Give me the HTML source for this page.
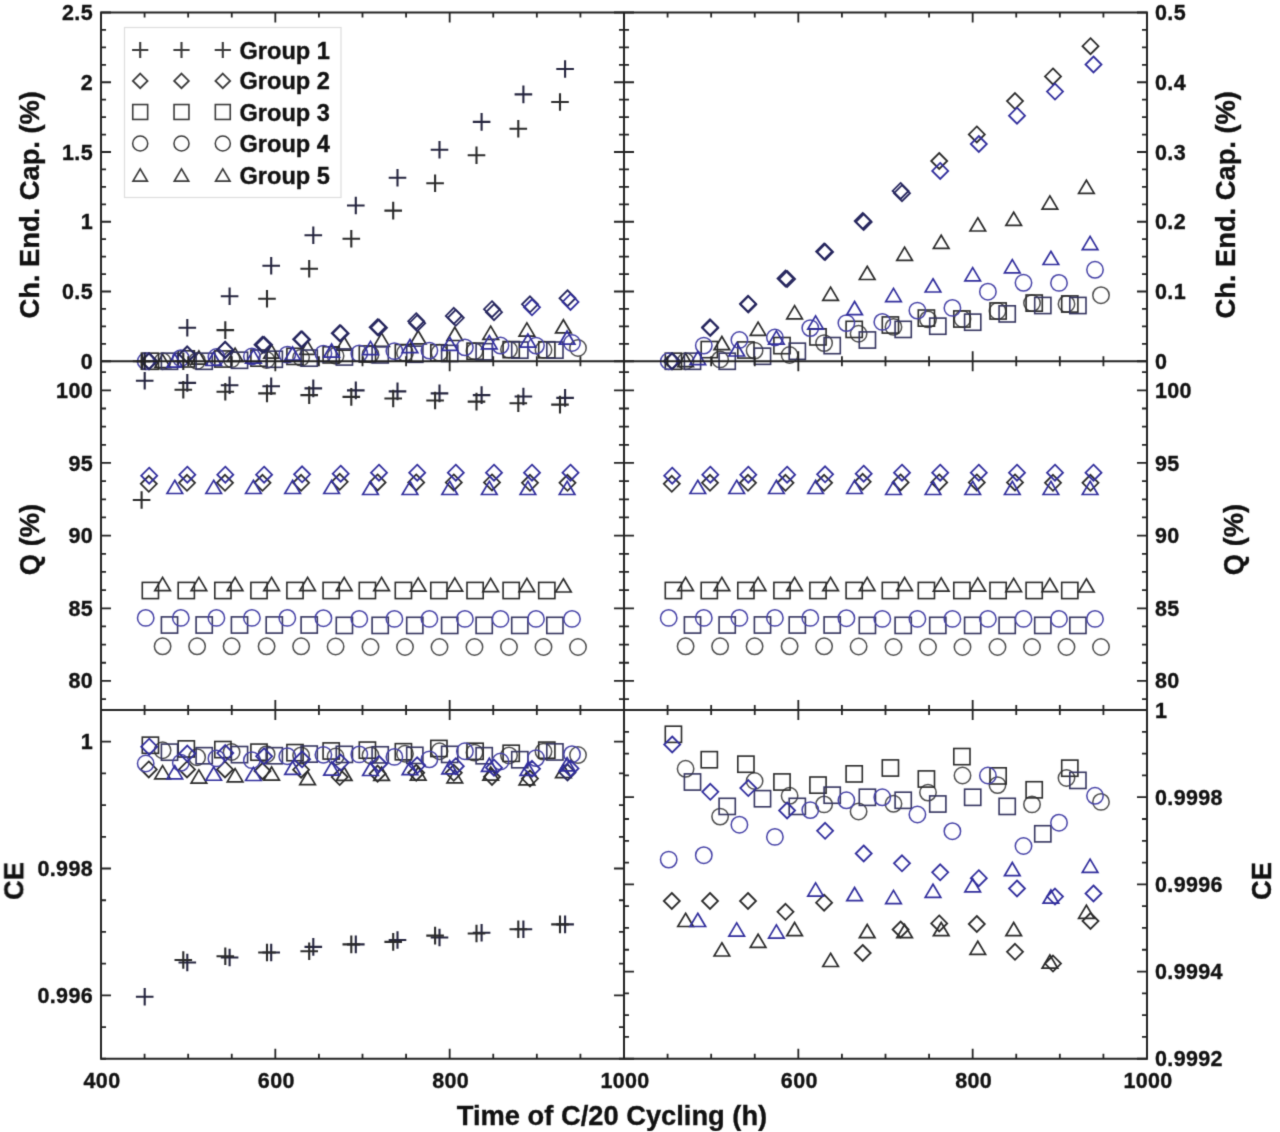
<!DOCTYPE html><html><head><meta charset="utf-8"><style>html,body{margin:0;padding:0;background:#fff;}svg{display:block;}text{font-family:"Liberation Sans", sans-serif;font-weight:bold;fill:#111;stroke:#111;stroke-width:0.35px;}</style></head><body>
<svg width="1280" height="1132" viewBox="0 0 1280 1132">
<defs><filter id="bl" color-interpolation-filters="sRGB" x="0" y="0" width="1280" height="1132" filterUnits="userSpaceOnUse"><feConvolveMatrix order="5" kernelMatrix="0.00000 0.00013 0.00070 0.00013 0.00000 0.00013 0.01910 0.09973 0.01910 0.00013 0.00070 0.09973 0.52080 0.09973 0.00070 0.00013 0.01910 0.09973 0.01910 0.00013 0.00000 0.00013 0.00070 0.00013 0.00000" divisor="1" edgeMode="none"/></filter></defs>
<rect width="1280" height="1132" fill="#fff"/>
<g filter="url(#bl)">
<g><circle cx="685.60" cy="361.25" r="8.20" stroke="#4c4c4c" stroke-width="1.5" fill="none"/><circle cx="162.60" cy="361.25" r="8.20" stroke="#4c4c4c" stroke-width="1.5" fill="none"/><circle cx="685.60" cy="646.30" r="8.20" stroke="#4c4c4c" stroke-width="1.5" fill="none"/><circle cx="162.60" cy="646.30" r="8.20" stroke="#4c4c4c" stroke-width="1.5" fill="none"/><circle cx="685.60" cy="768.80" r="8.20" stroke="#4c4c4c" stroke-width="1.5" fill="none"/><circle cx="162.60" cy="750.25" r="8.20" stroke="#4c4c4c" stroke-width="1.5" fill="none"/><circle cx="720.10" cy="359.40" r="8.20" stroke="#4c4c4c" stroke-width="1.5" fill="none"/><circle cx="197.10" cy="360.88" r="8.20" stroke="#4c4c4c" stroke-width="1.5" fill="none"/><circle cx="720.10" cy="646.30" r="8.20" stroke="#4c4c4c" stroke-width="1.5" fill="none"/><circle cx="197.10" cy="646.30" r="8.20" stroke="#4c4c4c" stroke-width="1.5" fill="none"/><circle cx="720.10" cy="816.60" r="8.20" stroke="#4c4c4c" stroke-width="1.5" fill="none"/><circle cx="197.10" cy="757.20" r="8.20" stroke="#4c4c4c" stroke-width="1.5" fill="none"/><circle cx="754.60" cy="350.60" r="8.20" stroke="#4c4c4c" stroke-width="1.5" fill="none"/><circle cx="231.60" cy="359.12" r="8.20" stroke="#4c4c4c" stroke-width="1.5" fill="none"/><circle cx="754.60" cy="646.30" r="8.20" stroke="#4c4c4c" stroke-width="1.5" fill="none"/><circle cx="231.60" cy="646.30" r="8.20" stroke="#4c4c4c" stroke-width="1.5" fill="none"/><circle cx="754.60" cy="781.00" r="8.20" stroke="#4c4c4c" stroke-width="1.5" fill="none"/><circle cx="231.60" cy="752.03" r="8.20" stroke="#4c4c4c" stroke-width="1.5" fill="none"/><circle cx="789.60" cy="355.00" r="8.20" stroke="#4c4c4c" stroke-width="1.5" fill="none"/><circle cx="266.60" cy="360.00" r="8.20" stroke="#4c4c4c" stroke-width="1.5" fill="none"/><circle cx="789.60" cy="646.30" r="8.20" stroke="#4c4c4c" stroke-width="1.5" fill="none"/><circle cx="266.60" cy="646.30" r="8.20" stroke="#4c4c4c" stroke-width="1.5" fill="none"/><circle cx="789.60" cy="795.80" r="8.20" stroke="#4c4c4c" stroke-width="1.5" fill="none"/><circle cx="266.60" cy="754.18" r="8.20" stroke="#4c4c4c" stroke-width="1.5" fill="none"/><circle cx="824.10" cy="343.10" r="8.20" stroke="#4c4c4c" stroke-width="1.5" fill="none"/><circle cx="301.10" cy="357.62" r="8.20" stroke="#4c4c4c" stroke-width="1.5" fill="none"/><circle cx="824.10" cy="646.30" r="8.20" stroke="#4c4c4c" stroke-width="1.5" fill="none"/><circle cx="301.10" cy="646.30" r="8.20" stroke="#4c4c4c" stroke-width="1.5" fill="none"/><circle cx="824.10" cy="804.40" r="8.20" stroke="#4c4c4c" stroke-width="1.5" fill="none"/><circle cx="301.10" cy="755.43" r="8.20" stroke="#4c4c4c" stroke-width="1.5" fill="none"/><circle cx="858.60" cy="333.75" r="8.20" stroke="#4c4c4c" stroke-width="1.5" fill="none"/><circle cx="335.60" cy="355.75" r="8.20" stroke="#4c4c4c" stroke-width="1.5" fill="none"/><circle cx="858.60" cy="646.50" r="8.20" stroke="#4c4c4c" stroke-width="1.5" fill="none"/><circle cx="335.60" cy="646.50" r="8.20" stroke="#4c4c4c" stroke-width="1.5" fill="none"/><circle cx="858.60" cy="811.50" r="8.20" stroke="#4c4c4c" stroke-width="1.5" fill="none"/><circle cx="335.60" cy="756.46" r="8.20" stroke="#4c4c4c" stroke-width="1.5" fill="none"/><circle cx="893.50" cy="326.90" r="8.20" stroke="#4c4c4c" stroke-width="1.5" fill="none"/><circle cx="370.50" cy="354.38" r="8.20" stroke="#4c4c4c" stroke-width="1.5" fill="none"/><circle cx="893.50" cy="647.00" r="8.20" stroke="#4c4c4c" stroke-width="1.5" fill="none"/><circle cx="370.50" cy="647.00" r="8.20" stroke="#4c4c4c" stroke-width="1.5" fill="none"/><circle cx="893.50" cy="803.80" r="8.20" stroke="#4c4c4c" stroke-width="1.5" fill="none"/><circle cx="370.50" cy="755.34" r="8.20" stroke="#4c4c4c" stroke-width="1.5" fill="none"/><circle cx="928.00" cy="319.40" r="8.20" stroke="#4c4c4c" stroke-width="1.5" fill="none"/><circle cx="405.00" cy="352.88" r="8.20" stroke="#4c4c4c" stroke-width="1.5" fill="none"/><circle cx="928.00" cy="647.00" r="8.20" stroke="#4c4c4c" stroke-width="1.5" fill="none"/><circle cx="405.00" cy="647.00" r="8.20" stroke="#4c4c4c" stroke-width="1.5" fill="none"/><circle cx="928.00" cy="792.60" r="8.20" stroke="#4c4c4c" stroke-width="1.5" fill="none"/><circle cx="405.00" cy="753.71" r="8.20" stroke="#4c4c4c" stroke-width="1.5" fill="none"/><circle cx="962.50" cy="319.00" r="8.20" stroke="#4c4c4c" stroke-width="1.5" fill="none"/><circle cx="439.50" cy="352.80" r="8.20" stroke="#4c4c4c" stroke-width="1.5" fill="none"/><circle cx="962.50" cy="647.00" r="8.20" stroke="#4c4c4c" stroke-width="1.5" fill="none"/><circle cx="439.50" cy="647.00" r="8.20" stroke="#4c4c4c" stroke-width="1.5" fill="none"/><circle cx="962.50" cy="775.50" r="8.20" stroke="#4c4c4c" stroke-width="1.5" fill="none"/><circle cx="439.50" cy="751.23" r="8.20" stroke="#4c4c4c" stroke-width="1.5" fill="none"/><circle cx="997.50" cy="311.00" r="8.20" stroke="#4c4c4c" stroke-width="1.5" fill="none"/><circle cx="474.50" cy="351.20" r="8.20" stroke="#4c4c4c" stroke-width="1.5" fill="none"/><circle cx="997.50" cy="647.00" r="8.20" stroke="#4c4c4c" stroke-width="1.5" fill="none"/><circle cx="474.50" cy="647.00" r="8.20" stroke="#4c4c4c" stroke-width="1.5" fill="none"/><circle cx="997.50" cy="785.10" r="8.20" stroke="#4c4c4c" stroke-width="1.5" fill="none"/><circle cx="474.50" cy="752.62" r="8.20" stroke="#4c4c4c" stroke-width="1.5" fill="none"/><circle cx="1032.00" cy="303.10" r="8.20" stroke="#4c4c4c" stroke-width="1.5" fill="none"/><circle cx="509.00" cy="349.62" r="8.20" stroke="#4c4c4c" stroke-width="1.5" fill="none"/><circle cx="1032.00" cy="647.00" r="8.20" stroke="#4c4c4c" stroke-width="1.5" fill="none"/><circle cx="509.00" cy="647.00" r="8.20" stroke="#4c4c4c" stroke-width="1.5" fill="none"/><circle cx="1032.00" cy="804.40" r="8.20" stroke="#4c4c4c" stroke-width="1.5" fill="none"/><circle cx="509.00" cy="755.43" r="8.20" stroke="#4c4c4c" stroke-width="1.5" fill="none"/><circle cx="1066.50" cy="303.90" r="8.20" stroke="#4c4c4c" stroke-width="1.5" fill="none"/><circle cx="543.50" cy="349.78" r="8.20" stroke="#4c4c4c" stroke-width="1.5" fill="none"/><circle cx="1066.50" cy="647.00" r="8.20" stroke="#4c4c4c" stroke-width="1.5" fill="none"/><circle cx="543.50" cy="647.00" r="8.20" stroke="#4c4c4c" stroke-width="1.5" fill="none"/><circle cx="1066.50" cy="778.00" r="8.20" stroke="#4c4c4c" stroke-width="1.5" fill="none"/><circle cx="543.50" cy="751.59" r="8.20" stroke="#4c4c4c" stroke-width="1.5" fill="none"/><circle cx="1101.00" cy="295.20" r="8.20" stroke="#4c4c4c" stroke-width="1.5" fill="none"/><circle cx="578.00" cy="348.04" r="8.20" stroke="#4c4c4c" stroke-width="1.5" fill="none"/><circle cx="1101.00" cy="647.00" r="8.20" stroke="#4c4c4c" stroke-width="1.5" fill="none"/><circle cx="578.00" cy="647.00" r="8.20" stroke="#4c4c4c" stroke-width="1.5" fill="none"/><circle cx="1101.00" cy="801.90" r="8.20" stroke="#4c4c4c" stroke-width="1.5" fill="none"/><circle cx="578.00" cy="755.07" r="8.20" stroke="#4c4c4c" stroke-width="1.5" fill="none"/><rect x="665.30" y="353.15" width="16.20" height="16.20" stroke="#2a2a2a" stroke-width="1.6" fill="none"/><rect x="142.30" y="353.15" width="16.20" height="16.20" stroke="#2a2a2a" stroke-width="1.6" fill="none"/><rect x="665.30" y="582.40" width="16.20" height="16.20" stroke="#2a2a2a" stroke-width="1.6" fill="none"/><rect x="142.30" y="582.40" width="16.20" height="16.20" stroke="#2a2a2a" stroke-width="1.6" fill="none"/><rect x="665.30" y="726.20" width="16.20" height="16.20" stroke="#2a2a2a" stroke-width="1.6" fill="none"/><rect x="142.30" y="737.13" width="16.20" height="16.20" stroke="#2a2a2a" stroke-width="1.6" fill="none"/><rect x="701.20" y="341.50" width="16.20" height="16.20" stroke="#2a2a2a" stroke-width="1.6" fill="none"/><rect x="178.20" y="350.82" width="16.20" height="16.20" stroke="#2a2a2a" stroke-width="1.6" fill="none"/><rect x="701.20" y="582.40" width="16.20" height="16.20" stroke="#2a2a2a" stroke-width="1.6" fill="none"/><rect x="178.20" y="582.40" width="16.20" height="16.20" stroke="#2a2a2a" stroke-width="1.6" fill="none"/><rect x="701.20" y="751.60" width="16.20" height="16.20" stroke="#2a2a2a" stroke-width="1.6" fill="none"/><rect x="178.20" y="740.83" width="16.20" height="16.20" stroke="#2a2a2a" stroke-width="1.6" fill="none"/><rect x="737.80" y="341.90" width="16.20" height="16.20" stroke="#2a2a2a" stroke-width="1.6" fill="none"/><rect x="214.80" y="350.90" width="16.20" height="16.20" stroke="#2a2a2a" stroke-width="1.6" fill="none"/><rect x="737.80" y="582.40" width="16.20" height="16.20" stroke="#2a2a2a" stroke-width="1.6" fill="none"/><rect x="214.80" y="582.40" width="16.20" height="16.20" stroke="#2a2a2a" stroke-width="1.6" fill="none"/><rect x="737.80" y="756.10" width="16.20" height="16.20" stroke="#2a2a2a" stroke-width="1.6" fill="none"/><rect x="214.80" y="741.48" width="16.20" height="16.20" stroke="#2a2a2a" stroke-width="1.6" fill="none"/><rect x="773.90" y="337.50" width="16.20" height="16.20" stroke="#2a2a2a" stroke-width="1.6" fill="none"/><rect x="250.90" y="350.02" width="16.20" height="16.20" stroke="#2a2a2a" stroke-width="1.6" fill="none"/><rect x="773.90" y="582.40" width="16.20" height="16.20" stroke="#2a2a2a" stroke-width="1.6" fill="none"/><rect x="250.90" y="582.40" width="16.20" height="16.20" stroke="#2a2a2a" stroke-width="1.6" fill="none"/><rect x="773.90" y="773.90" width="16.20" height="16.20" stroke="#2a2a2a" stroke-width="1.6" fill="none"/><rect x="250.90" y="744.07" width="16.20" height="16.20" stroke="#2a2a2a" stroke-width="1.6" fill="none"/><rect x="809.90" y="328.80" width="16.20" height="16.20" stroke="#2a2a2a" stroke-width="1.6" fill="none"/><rect x="286.90" y="348.28" width="16.20" height="16.20" stroke="#2a2a2a" stroke-width="1.6" fill="none"/><rect x="809.90" y="582.40" width="16.20" height="16.20" stroke="#2a2a2a" stroke-width="1.6" fill="none"/><rect x="286.90" y="582.40" width="16.20" height="16.20" stroke="#2a2a2a" stroke-width="1.6" fill="none"/><rect x="809.90" y="777.00" width="16.20" height="16.20" stroke="#2a2a2a" stroke-width="1.6" fill="none"/><rect x="286.90" y="744.52" width="16.20" height="16.20" stroke="#2a2a2a" stroke-width="1.6" fill="none"/><rect x="846.10" y="321.30" width="16.20" height="16.20" stroke="#2a2a2a" stroke-width="1.6" fill="none"/><rect x="323.10" y="346.78" width="16.20" height="16.20" stroke="#2a2a2a" stroke-width="1.6" fill="none"/><rect x="846.10" y="582.40" width="16.20" height="16.20" stroke="#2a2a2a" stroke-width="1.6" fill="none"/><rect x="323.10" y="582.40" width="16.20" height="16.20" stroke="#2a2a2a" stroke-width="1.6" fill="none"/><rect x="846.10" y="765.80" width="16.20" height="16.20" stroke="#2a2a2a" stroke-width="1.6" fill="none"/><rect x="323.10" y="742.89" width="16.20" height="16.20" stroke="#2a2a2a" stroke-width="1.6" fill="none"/><rect x="882.30" y="316.90" width="16.20" height="16.20" stroke="#2a2a2a" stroke-width="1.6" fill="none"/><rect x="359.30" y="345.90" width="16.20" height="16.20" stroke="#2a2a2a" stroke-width="1.6" fill="none"/><rect x="882.30" y="582.40" width="16.20" height="16.20" stroke="#2a2a2a" stroke-width="1.6" fill="none"/><rect x="359.30" y="582.40" width="16.20" height="16.20" stroke="#2a2a2a" stroke-width="1.6" fill="none"/><rect x="882.30" y="759.90" width="16.20" height="16.20" stroke="#2a2a2a" stroke-width="1.6" fill="none"/><rect x="359.30" y="742.04" width="16.20" height="16.20" stroke="#2a2a2a" stroke-width="1.6" fill="none"/><rect x="918.30" y="310.00" width="16.20" height="16.20" stroke="#2a2a2a" stroke-width="1.6" fill="none"/><rect x="395.30" y="344.52" width="16.20" height="16.20" stroke="#2a2a2a" stroke-width="1.6" fill="none"/><rect x="918.30" y="582.40" width="16.20" height="16.20" stroke="#2a2a2a" stroke-width="1.6" fill="none"/><rect x="395.30" y="582.40" width="16.20" height="16.20" stroke="#2a2a2a" stroke-width="1.6" fill="none"/><rect x="918.30" y="770.90" width="16.20" height="16.20" stroke="#2a2a2a" stroke-width="1.6" fill="none"/><rect x="395.30" y="743.64" width="16.20" height="16.20" stroke="#2a2a2a" stroke-width="1.6" fill="none"/><rect x="953.80" y="310.90" width="16.20" height="16.20" stroke="#2a2a2a" stroke-width="1.6" fill="none"/><rect x="430.80" y="344.70" width="16.20" height="16.20" stroke="#2a2a2a" stroke-width="1.6" fill="none"/><rect x="953.80" y="582.40" width="16.20" height="16.20" stroke="#2a2a2a" stroke-width="1.6" fill="none"/><rect x="430.80" y="582.40" width="16.20" height="16.20" stroke="#2a2a2a" stroke-width="1.6" fill="none"/><rect x="953.80" y="748.50" width="16.20" height="16.20" stroke="#2a2a2a" stroke-width="1.6" fill="none"/><rect x="430.80" y="740.38" width="16.20" height="16.20" stroke="#2a2a2a" stroke-width="1.6" fill="none"/><rect x="990.00" y="302.90" width="16.20" height="16.20" stroke="#2a2a2a" stroke-width="1.6" fill="none"/><rect x="467.00" y="343.10" width="16.20" height="16.20" stroke="#2a2a2a" stroke-width="1.6" fill="none"/><rect x="990.00" y="582.40" width="16.20" height="16.20" stroke="#2a2a2a" stroke-width="1.6" fill="none"/><rect x="467.00" y="582.40" width="16.20" height="16.20" stroke="#2a2a2a" stroke-width="1.6" fill="none"/><rect x="990.00" y="767.80" width="16.20" height="16.20" stroke="#2a2a2a" stroke-width="1.6" fill="none"/><rect x="467.00" y="743.19" width="16.20" height="16.20" stroke="#2a2a2a" stroke-width="1.6" fill="none"/><rect x="1026.10" y="295.00" width="16.20" height="16.20" stroke="#2a2a2a" stroke-width="1.6" fill="none"/><rect x="503.10" y="341.52" width="16.20" height="16.20" stroke="#2a2a2a" stroke-width="1.6" fill="none"/><rect x="1026.10" y="582.40" width="16.20" height="16.20" stroke="#2a2a2a" stroke-width="1.6" fill="none"/><rect x="503.10" y="582.40" width="16.20" height="16.20" stroke="#2a2a2a" stroke-width="1.6" fill="none"/><rect x="1026.10" y="781.70" width="16.20" height="16.20" stroke="#2a2a2a" stroke-width="1.6" fill="none"/><rect x="503.10" y="745.21" width="16.20" height="16.20" stroke="#2a2a2a" stroke-width="1.6" fill="none"/><rect x="1061.70" y="295.90" width="16.20" height="16.20" stroke="#2a2a2a" stroke-width="1.6" fill="none"/><rect x="538.70" y="341.70" width="16.20" height="16.20" stroke="#2a2a2a" stroke-width="1.6" fill="none"/><rect x="1061.70" y="582.40" width="16.20" height="16.20" stroke="#2a2a2a" stroke-width="1.6" fill="none"/><rect x="538.70" y="582.40" width="16.20" height="16.20" stroke="#2a2a2a" stroke-width="1.6" fill="none"/><rect x="1061.70" y="760.10" width="16.20" height="16.20" stroke="#2a2a2a" stroke-width="1.6" fill="none"/><rect x="538.70" y="742.07" width="16.20" height="16.20" stroke="#2a2a2a" stroke-width="1.6" fill="none"/><path d="M685.60 353.40L693.40 366.60L677.80 366.60Z" stroke="#2a2a2a" stroke-width="1.7000000000000002" fill="none" stroke-linejoin="miter"/><path d="M162.60 354.40L170.40 367.60L154.80 367.60Z" stroke="#2a2a2a" stroke-width="1.7000000000000002" fill="none" stroke-linejoin="miter"/><path d="M685.60 577.40L693.40 590.60L677.80 590.60Z" stroke="#2a2a2a" stroke-width="1.7000000000000002" fill="none" stroke-linejoin="miter"/><path d="M162.60 577.40L170.40 590.60L154.80 590.60Z" stroke="#2a2a2a" stroke-width="1.7000000000000002" fill="none" stroke-linejoin="miter"/><path d="M685.60 913.30L693.40 926.50L677.80 926.50Z" stroke="#2a2a2a" stroke-width="1.7000000000000002" fill="none" stroke-linejoin="miter"/><path d="M162.60 765.63L170.40 778.83L154.80 778.83Z" stroke="#2a2a2a" stroke-width="1.7000000000000002" fill="none" stroke-linejoin="miter"/><path d="M721.90 336.50L729.70 349.70L714.10 349.70Z" stroke="#2a2a2a" stroke-width="1.7000000000000002" fill="none" stroke-linejoin="miter"/><path d="M198.90 351.02L206.70 364.22L191.10 364.22Z" stroke="#2a2a2a" stroke-width="1.7000000000000002" fill="none" stroke-linejoin="miter"/><path d="M721.90 577.40L729.70 590.60L714.10 590.60Z" stroke="#2a2a2a" stroke-width="1.7000000000000002" fill="none" stroke-linejoin="miter"/><path d="M198.90 577.40L206.70 590.60L191.10 590.60Z" stroke="#2a2a2a" stroke-width="1.7000000000000002" fill="none" stroke-linejoin="miter"/><path d="M721.90 942.80L729.70 956.00L714.10 956.00Z" stroke="#2a2a2a" stroke-width="1.7000000000000002" fill="none" stroke-linejoin="miter"/><path d="M198.90 769.92L206.70 783.12L191.10 783.12Z" stroke="#2a2a2a" stroke-width="1.7000000000000002" fill="none" stroke-linejoin="miter"/><path d="M758.10 322.15L765.90 335.35L750.30 335.35Z" stroke="#2a2a2a" stroke-width="1.7000000000000002" fill="none" stroke-linejoin="miter"/><path d="M235.10 348.15L242.90 361.35L227.30 361.35Z" stroke="#2a2a2a" stroke-width="1.7000000000000002" fill="none" stroke-linejoin="miter"/><path d="M758.10 577.40L765.90 590.60L750.30 590.60Z" stroke="#2a2a2a" stroke-width="1.7000000000000002" fill="none" stroke-linejoin="miter"/><path d="M235.10 577.40L242.90 590.60L227.30 590.60Z" stroke="#2a2a2a" stroke-width="1.7000000000000002" fill="none" stroke-linejoin="miter"/><path d="M758.10 934.20L765.90 947.40L750.30 947.40Z" stroke="#2a2a2a" stroke-width="1.7000000000000002" fill="none" stroke-linejoin="miter"/><path d="M235.10 768.67L242.90 781.87L227.30 781.87Z" stroke="#2a2a2a" stroke-width="1.7000000000000002" fill="none" stroke-linejoin="miter"/><path d="M794.60 305.60L802.40 318.80L786.80 318.80Z" stroke="#2a2a2a" stroke-width="1.7000000000000002" fill="none" stroke-linejoin="miter"/><path d="M271.60 344.84L279.40 358.04L263.80 358.04Z" stroke="#2a2a2a" stroke-width="1.7000000000000002" fill="none" stroke-linejoin="miter"/><path d="M794.60 577.40L802.40 590.60L786.80 590.60Z" stroke="#2a2a2a" stroke-width="1.7000000000000002" fill="none" stroke-linejoin="miter"/><path d="M271.60 577.40L279.40 590.60L263.80 590.60Z" stroke="#2a2a2a" stroke-width="1.7000000000000002" fill="none" stroke-linejoin="miter"/><path d="M794.60 922.50L802.40 935.70L786.80 935.70Z" stroke="#2a2a2a" stroke-width="1.7000000000000002" fill="none" stroke-linejoin="miter"/><path d="M271.60 766.97L279.40 780.17L263.80 780.17Z" stroke="#2a2a2a" stroke-width="1.7000000000000002" fill="none" stroke-linejoin="miter"/><path d="M830.60 287.15L838.40 300.35L822.80 300.35Z" stroke="#2a2a2a" stroke-width="1.7000000000000002" fill="none" stroke-linejoin="miter"/><path d="M307.60 341.15L315.40 354.35L299.80 354.35Z" stroke="#2a2a2a" stroke-width="1.7000000000000002" fill="none" stroke-linejoin="miter"/><path d="M830.60 577.40L838.40 590.60L822.80 590.60Z" stroke="#2a2a2a" stroke-width="1.7000000000000002" fill="none" stroke-linejoin="miter"/><path d="M307.60 577.40L315.40 590.60L299.80 590.60Z" stroke="#2a2a2a" stroke-width="1.7000000000000002" fill="none" stroke-linejoin="miter"/><path d="M830.60 953.30L838.40 966.50L822.80 966.50Z" stroke="#2a2a2a" stroke-width="1.7000000000000002" fill="none" stroke-linejoin="miter"/><path d="M307.60 771.45L315.40 784.65L299.80 784.65Z" stroke="#2a2a2a" stroke-width="1.7000000000000002" fill="none" stroke-linejoin="miter"/><path d="M867.20 266.30L875.00 279.50L859.40 279.50Z" stroke="#2a2a2a" stroke-width="1.7000000000000002" fill="none" stroke-linejoin="miter"/><path d="M344.20 336.98L352.00 350.18L336.40 350.18Z" stroke="#2a2a2a" stroke-width="1.7000000000000002" fill="none" stroke-linejoin="miter"/><path d="M867.20 577.40L875.00 590.60L859.40 590.60Z" stroke="#2a2a2a" stroke-width="1.7000000000000002" fill="none" stroke-linejoin="miter"/><path d="M344.20 577.40L352.00 590.60L336.40 590.60Z" stroke="#2a2a2a" stroke-width="1.7000000000000002" fill="none" stroke-linejoin="miter"/><path d="M867.20 924.50L875.00 937.70L859.40 937.70Z" stroke="#2a2a2a" stroke-width="1.7000000000000002" fill="none" stroke-linejoin="miter"/><path d="M344.20 767.26L352.00 780.46L336.40 780.46Z" stroke="#2a2a2a" stroke-width="1.7000000000000002" fill="none" stroke-linejoin="miter"/><path d="M904.60 247.15L912.40 260.35L896.80 260.35Z" stroke="#2a2a2a" stroke-width="1.7000000000000002" fill="none" stroke-linejoin="miter"/><path d="M381.60 333.15L389.40 346.35L373.80 346.35Z" stroke="#2a2a2a" stroke-width="1.7000000000000002" fill="none" stroke-linejoin="miter"/><path d="M904.60 577.40L912.40 590.60L896.80 590.60Z" stroke="#2a2a2a" stroke-width="1.7000000000000002" fill="none" stroke-linejoin="miter"/><path d="M381.60 577.40L389.40 590.60L373.80 590.60Z" stroke="#2a2a2a" stroke-width="1.7000000000000002" fill="none" stroke-linejoin="miter"/><path d="M904.60 924.50L912.40 937.70L896.80 937.70Z" stroke="#2a2a2a" stroke-width="1.7000000000000002" fill="none" stroke-linejoin="miter"/><path d="M381.60 767.26L389.40 780.46L373.80 780.46Z" stroke="#2a2a2a" stroke-width="1.7000000000000002" fill="none" stroke-linejoin="miter"/><path d="M941.20 235.20L949.00 248.40L933.40 248.40Z" stroke="#2a2a2a" stroke-width="1.7000000000000002" fill="none" stroke-linejoin="miter"/><path d="M418.20 330.76L426.00 343.96L410.40 343.96Z" stroke="#2a2a2a" stroke-width="1.7000000000000002" fill="none" stroke-linejoin="miter"/><path d="M941.20 577.90L949.00 591.10L933.40 591.10Z" stroke="#2a2a2a" stroke-width="1.7000000000000002" fill="none" stroke-linejoin="miter"/><path d="M418.20 577.90L426.00 591.10L410.40 591.10Z" stroke="#2a2a2a" stroke-width="1.7000000000000002" fill="none" stroke-linejoin="miter"/><path d="M941.20 922.50L949.00 935.70L933.40 935.70Z" stroke="#2a2a2a" stroke-width="1.7000000000000002" fill="none" stroke-linejoin="miter"/><path d="M418.20 766.97L426.00 780.17L410.40 780.17Z" stroke="#2a2a2a" stroke-width="1.7000000000000002" fill="none" stroke-linejoin="miter"/><path d="M977.80 217.80L985.60 231.00L970.00 231.00Z" stroke="#2a2a2a" stroke-width="1.7000000000000002" fill="none" stroke-linejoin="miter"/><path d="M454.80 327.28L462.60 340.48L447.00 340.48Z" stroke="#2a2a2a" stroke-width="1.7000000000000002" fill="none" stroke-linejoin="miter"/><path d="M977.80 577.90L985.60 591.10L970.00 591.10Z" stroke="#2a2a2a" stroke-width="1.7000000000000002" fill="none" stroke-linejoin="miter"/><path d="M454.80 577.90L462.60 591.10L447.00 591.10Z" stroke="#2a2a2a" stroke-width="1.7000000000000002" fill="none" stroke-linejoin="miter"/><path d="M977.80 941.20L985.60 954.40L970.00 954.40Z" stroke="#2a2a2a" stroke-width="1.7000000000000002" fill="none" stroke-linejoin="miter"/><path d="M454.80 769.69L462.60 782.89L447.00 782.89Z" stroke="#2a2a2a" stroke-width="1.7000000000000002" fill="none" stroke-linejoin="miter"/><path d="M1013.70 212.20L1021.50 225.40L1005.90 225.40Z" stroke="#2a2a2a" stroke-width="1.7000000000000002" fill="none" stroke-linejoin="miter"/><path d="M490.70 326.16L498.50 339.36L482.90 339.36Z" stroke="#2a2a2a" stroke-width="1.7000000000000002" fill="none" stroke-linejoin="miter"/><path d="M1013.70 578.40L1021.50 591.60L1005.90 591.60Z" stroke="#2a2a2a" stroke-width="1.7000000000000002" fill="none" stroke-linejoin="miter"/><path d="M490.70 578.40L498.50 591.60L482.90 591.60Z" stroke="#2a2a2a" stroke-width="1.7000000000000002" fill="none" stroke-linejoin="miter"/><path d="M1013.70 922.50L1021.50 935.70L1005.90 935.70Z" stroke="#2a2a2a" stroke-width="1.7000000000000002" fill="none" stroke-linejoin="miter"/><path d="M490.70 766.97L498.50 780.17L482.90 780.17Z" stroke="#2a2a2a" stroke-width="1.7000000000000002" fill="none" stroke-linejoin="miter"/><path d="M1049.90 195.90L1057.70 209.10L1042.10 209.10Z" stroke="#2a2a2a" stroke-width="1.7000000000000002" fill="none" stroke-linejoin="miter"/><path d="M526.90 322.90L534.70 336.10L519.10 336.10Z" stroke="#2a2a2a" stroke-width="1.7000000000000002" fill="none" stroke-linejoin="miter"/><path d="M1049.90 578.40L1057.70 591.60L1042.10 591.60Z" stroke="#2a2a2a" stroke-width="1.7000000000000002" fill="none" stroke-linejoin="miter"/><path d="M526.90 578.40L534.70 591.60L519.10 591.60Z" stroke="#2a2a2a" stroke-width="1.7000000000000002" fill="none" stroke-linejoin="miter"/><path d="M1049.90 955.00L1057.70 968.20L1042.10 968.20Z" stroke="#2a2a2a" stroke-width="1.7000000000000002" fill="none" stroke-linejoin="miter"/><path d="M526.90 771.70L534.70 784.90L519.10 784.90Z" stroke="#2a2a2a" stroke-width="1.7000000000000002" fill="none" stroke-linejoin="miter"/><path d="M1086.40 180.20L1094.20 193.40L1078.60 193.40Z" stroke="#2a2a2a" stroke-width="1.7000000000000002" fill="none" stroke-linejoin="miter"/><path d="M563.40 319.76L571.20 332.96L555.60 332.96Z" stroke="#2a2a2a" stroke-width="1.7000000000000002" fill="none" stroke-linejoin="miter"/><path d="M1086.40 578.80L1094.20 592.00L1078.60 592.00Z" stroke="#2a2a2a" stroke-width="1.7000000000000002" fill="none" stroke-linejoin="miter"/><path d="M563.40 578.80L571.20 592.00L555.60 592.00Z" stroke="#2a2a2a" stroke-width="1.7000000000000002" fill="none" stroke-linejoin="miter"/><path d="M1086.40 905.20L1094.20 918.40L1078.60 918.40Z" stroke="#2a2a2a" stroke-width="1.7000000000000002" fill="none" stroke-linejoin="miter"/><path d="M563.40 764.45L571.20 777.65L555.60 777.65Z" stroke="#2a2a2a" stroke-width="1.7000000000000002" fill="none" stroke-linejoin="miter"/><path d="M671.80 353.25L679.80 361.25L671.80 369.25L663.80 361.25Z" stroke="#26265e" stroke-width="1.8" fill="none"/><path d="M148.80 353.25L156.80 361.25L148.80 369.25L140.80 361.25Z" stroke="#26265e" stroke-width="1.8" fill="none"/><path d="M671.80 475.80L679.80 483.80L671.80 491.80L663.80 483.80Z" stroke="#2a2a2a" stroke-width="1.8" fill="none"/><path d="M148.80 475.80L156.80 483.80L148.80 491.80L140.80 483.80Z" stroke="#2a2a2a" stroke-width="1.8" fill="none"/><path d="M671.80 893.00L679.80 901.00L671.80 909.00L663.80 901.00Z" stroke="#2a2a2a" stroke-width="1.8" fill="none"/><path d="M148.80 761.48L156.80 769.48L148.80 777.48L140.80 769.48Z" stroke="#2a2a2a" stroke-width="1.8" fill="none"/><path d="M710.00 319.30L718.00 327.30L710.00 335.30L702.00 327.30Z" stroke="#26265e" stroke-width="1.8" fill="none"/><path d="M187.00 346.46L195.00 354.46L187.00 362.46L179.00 354.46Z" stroke="#26265e" stroke-width="1.8" fill="none"/><path d="M710.00 474.80L718.00 482.80L710.00 490.80L702.00 482.80Z" stroke="#2a2a2a" stroke-width="1.8" fill="none"/><path d="M187.00 474.80L195.00 482.80L187.00 490.80L179.00 482.80Z" stroke="#2a2a2a" stroke-width="1.8" fill="none"/><path d="M710.00 893.00L718.00 901.00L710.00 909.00L702.00 901.00Z" stroke="#2a2a2a" stroke-width="1.8" fill="none"/><path d="M187.00 761.48L195.00 769.48L187.00 777.48L179.00 769.48Z" stroke="#2a2a2a" stroke-width="1.8" fill="none"/><path d="M748.00 295.70L756.00 303.70L748.00 311.70L740.00 303.70Z" stroke="#26265e" stroke-width="1.8" fill="none"/><path d="M225.00 341.74L233.00 349.74L225.00 357.74L217.00 349.74Z" stroke="#26265e" stroke-width="1.8" fill="none"/><path d="M748.00 474.80L756.00 482.80L748.00 490.80L740.00 482.80Z" stroke="#2a2a2a" stroke-width="1.8" fill="none"/><path d="M225.00 474.80L233.00 482.80L225.00 490.80L217.00 482.80Z" stroke="#2a2a2a" stroke-width="1.8" fill="none"/><path d="M748.00 893.00L756.00 901.00L748.00 909.00L740.00 901.00Z" stroke="#2a2a2a" stroke-width="1.8" fill="none"/><path d="M225.00 761.48L233.00 769.48L225.00 777.48L217.00 769.48Z" stroke="#2a2a2a" stroke-width="1.8" fill="none"/><path d="M785.50 270.50L793.50 278.50L785.50 286.50L777.50 278.50Z" stroke="#26265e" stroke-width="1.8" fill="none"/><path d="M262.50 336.70L270.50 344.70L262.50 352.70L254.50 344.70Z" stroke="#26265e" stroke-width="1.8" fill="none"/><path d="M785.50 474.80L793.50 482.80L785.50 490.80L777.50 482.80Z" stroke="#2a2a2a" stroke-width="1.8" fill="none"/><path d="M262.50 474.80L270.50 482.80L262.50 490.80L254.50 482.80Z" stroke="#2a2a2a" stroke-width="1.8" fill="none"/><path d="M785.50 903.80L793.50 911.80L785.50 919.80L777.50 911.80Z" stroke="#2a2a2a" stroke-width="1.8" fill="none"/><path d="M262.50 763.05L270.50 771.05L262.50 779.05L254.50 771.05Z" stroke="#2a2a2a" stroke-width="1.8" fill="none"/><path d="M824.10 243.50L832.10 251.50L824.10 259.50L816.10 251.50Z" stroke="#26265e" stroke-width="1.8" fill="none"/><path d="M301.10 331.30L309.10 339.30L301.10 347.30L293.10 339.30Z" stroke="#26265e" stroke-width="1.8" fill="none"/><path d="M824.10 474.80L832.10 482.80L824.10 490.80L816.10 482.80Z" stroke="#2a2a2a" stroke-width="1.8" fill="none"/><path d="M301.10 474.80L309.10 482.80L301.10 490.80L293.10 482.80Z" stroke="#2a2a2a" stroke-width="1.8" fill="none"/><path d="M824.10 894.70L832.10 902.70L824.10 910.70L816.10 902.70Z" stroke="#2a2a2a" stroke-width="1.8" fill="none"/><path d="M301.10 761.73L309.10 769.73L301.10 777.73L293.10 769.73Z" stroke="#2a2a2a" stroke-width="1.8" fill="none"/><path d="M862.70 213.00L870.70 221.00L862.70 229.00L854.70 221.00Z" stroke="#26265e" stroke-width="1.8" fill="none"/><path d="M339.70 325.20L347.70 333.20L339.70 341.20L331.70 333.20Z" stroke="#26265e" stroke-width="1.8" fill="none"/><path d="M862.70 473.80L870.70 481.80L862.70 489.80L854.70 481.80Z" stroke="#2a2a2a" stroke-width="1.8" fill="none"/><path d="M339.70 473.80L347.70 481.80L339.70 489.80L331.70 481.80Z" stroke="#2a2a2a" stroke-width="1.8" fill="none"/><path d="M862.70 945.00L870.70 953.00L862.70 961.00L854.70 953.00Z" stroke="#2a2a2a" stroke-width="1.8" fill="none"/><path d="M339.70 769.04L347.70 777.04L339.70 785.04L331.70 777.04Z" stroke="#2a2a2a" stroke-width="1.8" fill="none"/><path d="M900.60 182.90L908.60 190.90L900.60 198.90L892.60 190.90Z" stroke="#26265e" stroke-width="1.8" fill="none"/><path d="M377.60 319.18L385.60 327.18L377.60 335.18L369.60 327.18Z" stroke="#26265e" stroke-width="1.8" fill="none"/><path d="M900.60 474.40L908.60 482.40L900.60 490.40L892.60 482.40Z" stroke="#2a2a2a" stroke-width="1.8" fill="none"/><path d="M377.60 474.40L385.60 482.40L377.60 490.40L369.60 482.40Z" stroke="#2a2a2a" stroke-width="1.8" fill="none"/><path d="M900.60 921.50L908.60 929.50L900.60 937.50L892.60 929.50Z" stroke="#2a2a2a" stroke-width="1.8" fill="none"/><path d="M377.60 765.63L385.60 773.63L377.60 781.63L369.60 773.63Z" stroke="#2a2a2a" stroke-width="1.8" fill="none"/><path d="M939.20 153.00L947.20 161.00L939.20 169.00L931.20 161.00Z" stroke="#2a2a2a" stroke-width="1.8" fill="none"/><path d="M416.20 313.20L424.20 321.20L416.20 329.20L408.20 321.20Z" stroke="#26265e" stroke-width="1.8" fill="none"/><path d="M939.20 474.40L947.20 482.40L939.20 490.40L931.20 482.40Z" stroke="#2a2a2a" stroke-width="1.8" fill="none"/><path d="M416.20 474.40L424.20 482.40L416.20 490.40L408.20 482.40Z" stroke="#2a2a2a" stroke-width="1.8" fill="none"/><path d="M939.20 915.40L947.20 923.40L939.20 931.40L931.20 923.40Z" stroke="#2a2a2a" stroke-width="1.8" fill="none"/><path d="M416.20 764.74L424.20 772.74L416.20 780.74L408.20 772.74Z" stroke="#2a2a2a" stroke-width="1.8" fill="none"/><path d="M976.80 126.40L984.80 134.40L976.80 142.40L968.80 134.40Z" stroke="#2a2a2a" stroke-width="1.8" fill="none"/><path d="M453.80 307.88L461.80 315.88L453.80 323.88L445.80 315.88Z" stroke="#26265e" stroke-width="1.8" fill="none"/><path d="M976.80 474.40L984.80 482.40L976.80 490.40L968.80 482.40Z" stroke="#2a2a2a" stroke-width="1.8" fill="none"/><path d="M453.80 474.40L461.80 482.40L453.80 490.40L445.80 482.40Z" stroke="#2a2a2a" stroke-width="1.8" fill="none"/><path d="M976.80 916.00L984.80 924.00L976.80 932.00L968.80 924.00Z" stroke="#2a2a2a" stroke-width="1.8" fill="none"/><path d="M453.80 764.83L461.80 772.83L453.80 780.83L445.80 772.83Z" stroke="#2a2a2a" stroke-width="1.8" fill="none"/><path d="M1015.00 93.10L1023.00 101.10L1015.00 109.10L1007.00 101.10Z" stroke="#2a2a2a" stroke-width="1.8" fill="none"/><path d="M492.00 301.22L500.00 309.22L492.00 317.22L484.00 309.22Z" stroke="#26265e" stroke-width="1.8" fill="none"/><path d="M1015.00 474.40L1023.00 482.40L1015.00 490.40L1007.00 482.40Z" stroke="#2a2a2a" stroke-width="1.8" fill="none"/><path d="M492.00 474.40L500.00 482.40L492.00 490.40L484.00 482.40Z" stroke="#2a2a2a" stroke-width="1.8" fill="none"/><path d="M1015.00 943.80L1023.00 951.80L1015.00 959.80L1007.00 951.80Z" stroke="#2a2a2a" stroke-width="1.8" fill="none"/><path d="M492.00 768.87L500.00 776.87L492.00 784.87L484.00 776.87Z" stroke="#2a2a2a" stroke-width="1.8" fill="none"/><path d="M1053.00 68.40L1061.00 76.40L1053.00 84.40L1045.00 76.40Z" stroke="#2a2a2a" stroke-width="1.8" fill="none"/><path d="M530.00 296.28L538.00 304.28L530.00 312.28L522.00 304.28Z" stroke="#26265e" stroke-width="1.8" fill="none"/><path d="M1053.00 474.80L1061.00 482.80L1053.00 490.80L1045.00 482.80Z" stroke="#2a2a2a" stroke-width="1.8" fill="none"/><path d="M530.00 474.80L538.00 482.80L530.00 490.80L522.00 482.80Z" stroke="#2a2a2a" stroke-width="1.8" fill="none"/><path d="M1053.00 955.60L1061.00 963.60L1053.00 971.60L1045.00 963.60Z" stroke="#2a2a2a" stroke-width="1.8" fill="none"/><path d="M530.00 770.59L538.00 778.59L530.00 786.59L522.00 778.59Z" stroke="#2a2a2a" stroke-width="1.8" fill="none"/><path d="M1090.50 38.20L1098.50 46.20L1090.50 54.20L1082.50 46.20Z" stroke="#2a2a2a" stroke-width="1.8" fill="none"/><path d="M567.50 290.24L575.50 298.24L567.50 306.24L559.50 298.24Z" stroke="#26265e" stroke-width="1.8" fill="none"/><path d="M1090.50 474.80L1098.50 482.80L1090.50 490.80L1082.50 482.80Z" stroke="#2a2a2a" stroke-width="1.8" fill="none"/><path d="M567.50 474.80L575.50 482.80L567.50 490.80L559.50 482.80Z" stroke="#2a2a2a" stroke-width="1.8" fill="none"/><path d="M1090.50 913.00L1098.50 921.00L1090.50 929.00L1082.50 921.00Z" stroke="#2a2a2a" stroke-width="1.8" fill="none"/><path d="M567.50 764.39L575.50 772.39L567.50 780.39L559.50 772.39Z" stroke="#26265e" stroke-width="1.8" fill="none"/><rect x="684.40" y="353.15" width="16.20" height="16.20" stroke="#34345f" stroke-width="1.6" fill="none"/><rect x="161.40" y="353.15" width="16.20" height="16.20" stroke="#34345f" stroke-width="1.6" fill="none"/><rect x="684.40" y="616.90" width="16.20" height="16.20" stroke="#34345f" stroke-width="1.6" fill="none"/><rect x="161.40" y="616.90" width="16.20" height="16.20" stroke="#34345f" stroke-width="1.6" fill="none"/><rect x="684.40" y="773.90" width="16.20" height="16.20" stroke="#34345f" stroke-width="1.6" fill="none"/><rect x="161.40" y="744.07" width="16.20" height="16.20" stroke="#34345f" stroke-width="1.6" fill="none"/><rect x="719.10" y="353.15" width="16.20" height="16.20" stroke="#34345f" stroke-width="1.6" fill="none"/><rect x="196.10" y="353.15" width="16.20" height="16.20" stroke="#34345f" stroke-width="1.6" fill="none"/><rect x="719.10" y="616.90" width="16.20" height="16.20" stroke="#34345f" stroke-width="1.6" fill="none"/><rect x="196.10" y="616.90" width="16.20" height="16.20" stroke="#34345f" stroke-width="1.6" fill="none"/><rect x="719.10" y="798.30" width="16.20" height="16.20" stroke="#34345f" stroke-width="1.6" fill="none"/><rect x="196.10" y="747.62" width="16.20" height="16.20" stroke="#34345f" stroke-width="1.6" fill="none"/><rect x="754.40" y="348.15" width="16.20" height="16.20" stroke="#34345f" stroke-width="1.6" fill="none"/><rect x="231.40" y="352.15" width="16.20" height="16.20" stroke="#34345f" stroke-width="1.6" fill="none"/><rect x="754.40" y="616.90" width="16.20" height="16.20" stroke="#34345f" stroke-width="1.6" fill="none"/><rect x="231.40" y="616.90" width="16.20" height="16.20" stroke="#34345f" stroke-width="1.6" fill="none"/><rect x="754.40" y="790.60" width="16.20" height="16.20" stroke="#34345f" stroke-width="1.6" fill="none"/><rect x="231.40" y="746.50" width="16.20" height="16.20" stroke="#34345f" stroke-width="1.6" fill="none"/><rect x="789.20" y="343.15" width="16.20" height="16.20" stroke="#34345f" stroke-width="1.6" fill="none"/><rect x="266.20" y="351.15" width="16.20" height="16.20" stroke="#34345f" stroke-width="1.6" fill="none"/><rect x="789.20" y="616.90" width="16.20" height="16.20" stroke="#34345f" stroke-width="1.6" fill="none"/><rect x="266.20" y="616.90" width="16.20" height="16.20" stroke="#34345f" stroke-width="1.6" fill="none"/><rect x="789.20" y="798.30" width="16.20" height="16.20" stroke="#34345f" stroke-width="1.6" fill="none"/><rect x="266.20" y="747.62" width="16.20" height="16.20" stroke="#34345f" stroke-width="1.6" fill="none"/><rect x="824.10" y="337.50" width="16.20" height="16.20" stroke="#34345f" stroke-width="1.6" fill="none"/><rect x="301.10" y="350.02" width="16.20" height="16.20" stroke="#34345f" stroke-width="1.6" fill="none"/><rect x="824.10" y="616.90" width="16.20" height="16.20" stroke="#34345f" stroke-width="1.6" fill="none"/><rect x="301.10" y="616.90" width="16.20" height="16.20" stroke="#34345f" stroke-width="1.6" fill="none"/><rect x="824.10" y="787.10" width="16.20" height="16.20" stroke="#34345f" stroke-width="1.6" fill="none"/><rect x="301.10" y="745.99" width="16.20" height="16.20" stroke="#34345f" stroke-width="1.6" fill="none"/><rect x="859.30" y="331.90" width="16.20" height="16.20" stroke="#34345f" stroke-width="1.6" fill="none"/><rect x="336.30" y="348.90" width="16.20" height="16.20" stroke="#34345f" stroke-width="1.6" fill="none"/><rect x="859.30" y="617.30" width="16.20" height="16.20" stroke="#34345f" stroke-width="1.6" fill="none"/><rect x="336.30" y="617.30" width="16.20" height="16.20" stroke="#34345f" stroke-width="1.6" fill="none"/><rect x="859.30" y="789.20" width="16.20" height="16.20" stroke="#34345f" stroke-width="1.6" fill="none"/><rect x="336.30" y="746.30" width="16.20" height="16.20" stroke="#34345f" stroke-width="1.6" fill="none"/><rect x="895.10" y="321.30" width="16.20" height="16.20" stroke="#34345f" stroke-width="1.6" fill="none"/><rect x="372.10" y="346.78" width="16.20" height="16.20" stroke="#34345f" stroke-width="1.6" fill="none"/><rect x="895.10" y="617.30" width="16.20" height="16.20" stroke="#34345f" stroke-width="1.6" fill="none"/><rect x="372.10" y="617.30" width="16.20" height="16.20" stroke="#34345f" stroke-width="1.6" fill="none"/><rect x="895.10" y="792.20" width="16.20" height="16.20" stroke="#34345f" stroke-width="1.6" fill="none"/><rect x="372.10" y="746.73" width="16.20" height="16.20" stroke="#34345f" stroke-width="1.6" fill="none"/><rect x="929.70" y="318.10" width="16.20" height="16.20" stroke="#34345f" stroke-width="1.6" fill="none"/><rect x="406.70" y="346.14" width="16.20" height="16.20" stroke="#34345f" stroke-width="1.6" fill="none"/><rect x="929.70" y="617.30" width="16.20" height="16.20" stroke="#34345f" stroke-width="1.6" fill="none"/><rect x="406.70" y="617.30" width="16.20" height="16.20" stroke="#34345f" stroke-width="1.6" fill="none"/><rect x="929.70" y="795.90" width="16.20" height="16.20" stroke="#34345f" stroke-width="1.6" fill="none"/><rect x="406.70" y="747.27" width="16.20" height="16.20" stroke="#34345f" stroke-width="1.6" fill="none"/><rect x="964.60" y="314.10" width="16.20" height="16.20" stroke="#34345f" stroke-width="1.6" fill="none"/><rect x="441.60" y="345.34" width="16.20" height="16.20" stroke="#34345f" stroke-width="1.6" fill="none"/><rect x="964.60" y="617.30" width="16.20" height="16.20" stroke="#34345f" stroke-width="1.6" fill="none"/><rect x="441.60" y="617.30" width="16.20" height="16.20" stroke="#34345f" stroke-width="1.6" fill="none"/><rect x="964.60" y="789.20" width="16.20" height="16.20" stroke="#34345f" stroke-width="1.6" fill="none"/><rect x="441.60" y="746.30" width="16.20" height="16.20" stroke="#34345f" stroke-width="1.6" fill="none"/><rect x="999.10" y="305.80" width="16.20" height="16.20" stroke="#34345f" stroke-width="1.6" fill="none"/><rect x="476.10" y="343.68" width="16.20" height="16.20" stroke="#34345f" stroke-width="1.6" fill="none"/><rect x="999.10" y="617.30" width="16.20" height="16.20" stroke="#34345f" stroke-width="1.6" fill="none"/><rect x="476.10" y="617.30" width="16.20" height="16.20" stroke="#34345f" stroke-width="1.6" fill="none"/><rect x="999.10" y="798.30" width="16.20" height="16.20" stroke="#34345f" stroke-width="1.6" fill="none"/><rect x="476.10" y="747.62" width="16.20" height="16.20" stroke="#34345f" stroke-width="1.6" fill="none"/><rect x="1034.70" y="297.40" width="16.20" height="16.20" stroke="#34345f" stroke-width="1.6" fill="none"/><rect x="511.70" y="342.00" width="16.20" height="16.20" stroke="#34345f" stroke-width="1.6" fill="none"/><rect x="1034.70" y="617.30" width="16.20" height="16.20" stroke="#34345f" stroke-width="1.6" fill="none"/><rect x="511.70" y="617.30" width="16.20" height="16.20" stroke="#34345f" stroke-width="1.6" fill="none"/><rect x="1034.70" y="825.70" width="16.20" height="16.20" stroke="#34345f" stroke-width="1.6" fill="none"/><rect x="511.70" y="751.61" width="16.20" height="16.20" stroke="#34345f" stroke-width="1.6" fill="none"/><rect x="1069.80" y="297.40" width="16.20" height="16.20" stroke="#34345f" stroke-width="1.6" fill="none"/><rect x="546.80" y="342.00" width="16.20" height="16.20" stroke="#34345f" stroke-width="1.6" fill="none"/><rect x="1069.80" y="617.30" width="16.20" height="16.20" stroke="#34345f" stroke-width="1.6" fill="none"/><rect x="546.80" y="617.30" width="16.20" height="16.20" stroke="#34345f" stroke-width="1.6" fill="none"/><rect x="1069.80" y="772.30" width="16.20" height="16.20" stroke="#34345f" stroke-width="1.6" fill="none"/><rect x="546.80" y="743.84" width="16.20" height="16.20" stroke="#34345f" stroke-width="1.6" fill="none"/><circle cx="668.70" cy="361.25" r="8.20" stroke="#4541a6" stroke-width="1.5" fill="none"/><circle cx="145.70" cy="361.25" r="8.20" stroke="#4541a6" stroke-width="1.5" fill="none"/><circle cx="668.70" cy="617.90" r="8.20" stroke="#4541a6" stroke-width="1.5" fill="none"/><circle cx="145.70" cy="617.90" r="8.20" stroke="#4541a6" stroke-width="1.5" fill="none"/><circle cx="668.70" cy="859.60" r="8.20" stroke="#4541a6" stroke-width="1.5" fill="none"/><circle cx="145.70" cy="763.46" r="8.20" stroke="#4541a6" stroke-width="1.5" fill="none"/><circle cx="703.80" cy="345.60" r="8.20" stroke="#4541a6" stroke-width="1.5" fill="none"/><circle cx="180.80" cy="358.12" r="8.20" stroke="#4541a6" stroke-width="1.5" fill="none"/><circle cx="703.80" cy="617.90" r="8.20" stroke="#4541a6" stroke-width="1.5" fill="none"/><circle cx="180.80" cy="617.90" r="8.20" stroke="#4541a6" stroke-width="1.5" fill="none"/><circle cx="703.80" cy="855.20" r="8.20" stroke="#4541a6" stroke-width="1.5" fill="none"/><circle cx="180.80" cy="762.82" r="8.20" stroke="#4541a6" stroke-width="1.5" fill="none"/><circle cx="739.40" cy="340.00" r="8.20" stroke="#4541a6" stroke-width="1.5" fill="none"/><circle cx="216.40" cy="357.00" r="8.20" stroke="#4541a6" stroke-width="1.5" fill="none"/><circle cx="739.40" cy="617.90" r="8.20" stroke="#4541a6" stroke-width="1.5" fill="none"/><circle cx="216.40" cy="617.90" r="8.20" stroke="#4541a6" stroke-width="1.5" fill="none"/><circle cx="739.40" cy="824.70" r="8.20" stroke="#4541a6" stroke-width="1.5" fill="none"/><circle cx="216.40" cy="758.38" r="8.20" stroke="#4541a6" stroke-width="1.5" fill="none"/><circle cx="774.90" cy="337.50" r="8.20" stroke="#4541a6" stroke-width="1.5" fill="none"/><circle cx="251.90" cy="356.50" r="8.20" stroke="#4541a6" stroke-width="1.5" fill="none"/><circle cx="774.90" cy="617.90" r="8.20" stroke="#4541a6" stroke-width="1.5" fill="none"/><circle cx="251.90" cy="617.90" r="8.20" stroke="#4541a6" stroke-width="1.5" fill="none"/><circle cx="774.90" cy="836.90" r="8.20" stroke="#4541a6" stroke-width="1.5" fill="none"/><circle cx="251.90" cy="760.16" r="8.20" stroke="#4541a6" stroke-width="1.5" fill="none"/><circle cx="810.30" cy="328.10" r="8.20" stroke="#4541a6" stroke-width="1.5" fill="none"/><circle cx="287.30" cy="354.62" r="8.20" stroke="#4541a6" stroke-width="1.5" fill="none"/><circle cx="810.30" cy="617.90" r="8.20" stroke="#4541a6" stroke-width="1.5" fill="none"/><circle cx="287.30" cy="617.90" r="8.20" stroke="#4541a6" stroke-width="1.5" fill="none"/><circle cx="810.30" cy="810.10" r="8.20" stroke="#4541a6" stroke-width="1.5" fill="none"/><circle cx="287.30" cy="756.26" r="8.20" stroke="#4541a6" stroke-width="1.5" fill="none"/><circle cx="846.40" cy="323.10" r="8.20" stroke="#4541a6" stroke-width="1.5" fill="none"/><circle cx="323.40" cy="353.62" r="8.20" stroke="#4541a6" stroke-width="1.5" fill="none"/><circle cx="846.40" cy="618.20" r="8.20" stroke="#4541a6" stroke-width="1.5" fill="none"/><circle cx="323.40" cy="618.20" r="8.20" stroke="#4541a6" stroke-width="1.5" fill="none"/><circle cx="846.40" cy="800.30" r="8.20" stroke="#4541a6" stroke-width="1.5" fill="none"/><circle cx="323.40" cy="754.83" r="8.20" stroke="#4541a6" stroke-width="1.5" fill="none"/><circle cx="882.30" cy="321.90" r="8.20" stroke="#4541a6" stroke-width="1.5" fill="none"/><circle cx="359.30" cy="353.38" r="8.20" stroke="#4541a6" stroke-width="1.5" fill="none"/><circle cx="882.30" cy="618.90" r="8.20" stroke="#4541a6" stroke-width="1.5" fill="none"/><circle cx="359.30" cy="618.90" r="8.20" stroke="#4541a6" stroke-width="1.5" fill="none"/><circle cx="882.30" cy="797.30" r="8.20" stroke="#4541a6" stroke-width="1.5" fill="none"/><circle cx="359.30" cy="754.40" r="8.20" stroke="#4541a6" stroke-width="1.5" fill="none"/><circle cx="917.40" cy="310.60" r="8.20" stroke="#4541a6" stroke-width="1.5" fill="none"/><circle cx="394.40" cy="351.12" r="8.20" stroke="#4541a6" stroke-width="1.5" fill="none"/><circle cx="917.40" cy="618.90" r="8.20" stroke="#4541a6" stroke-width="1.5" fill="none"/><circle cx="394.40" cy="618.90" r="8.20" stroke="#4541a6" stroke-width="1.5" fill="none"/><circle cx="917.40" cy="814.50" r="8.20" stroke="#4541a6" stroke-width="1.5" fill="none"/><circle cx="394.40" cy="756.90" r="8.20" stroke="#4541a6" stroke-width="1.5" fill="none"/><circle cx="952.40" cy="307.90" r="8.20" stroke="#4541a6" stroke-width="1.5" fill="none"/><circle cx="429.40" cy="350.58" r="8.20" stroke="#4541a6" stroke-width="1.5" fill="none"/><circle cx="952.40" cy="618.90" r="8.20" stroke="#4541a6" stroke-width="1.5" fill="none"/><circle cx="429.40" cy="618.90" r="8.20" stroke="#4541a6" stroke-width="1.5" fill="none"/><circle cx="952.40" cy="831.20" r="8.20" stroke="#4541a6" stroke-width="1.5" fill="none"/><circle cx="429.40" cy="759.33" r="8.20" stroke="#4541a6" stroke-width="1.5" fill="none"/><circle cx="987.90" cy="291.70" r="8.20" stroke="#4541a6" stroke-width="1.5" fill="none"/><circle cx="464.90" cy="347.34" r="8.20" stroke="#4541a6" stroke-width="1.5" fill="none"/><circle cx="987.90" cy="618.90" r="8.20" stroke="#4541a6" stroke-width="1.5" fill="none"/><circle cx="464.90" cy="618.90" r="8.20" stroke="#4541a6" stroke-width="1.5" fill="none"/><circle cx="987.90" cy="775.50" r="8.20" stroke="#4541a6" stroke-width="1.5" fill="none"/><circle cx="464.90" cy="751.23" r="8.20" stroke="#4541a6" stroke-width="1.5" fill="none"/><circle cx="1023.50" cy="282.80" r="8.20" stroke="#4541a6" stroke-width="1.5" fill="none"/><circle cx="500.50" cy="345.56" r="8.20" stroke="#4541a6" stroke-width="1.5" fill="none"/><circle cx="1023.50" cy="618.90" r="8.20" stroke="#4541a6" stroke-width="1.5" fill="none"/><circle cx="500.50" cy="618.90" r="8.20" stroke="#4541a6" stroke-width="1.5" fill="none"/><circle cx="1023.50" cy="846.00" r="8.20" stroke="#4541a6" stroke-width="1.5" fill="none"/><circle cx="500.50" cy="761.48" r="8.20" stroke="#4541a6" stroke-width="1.5" fill="none"/><circle cx="1059.00" cy="282.90" r="8.20" stroke="#4541a6" stroke-width="1.5" fill="none"/><circle cx="536.00" cy="345.58" r="8.20" stroke="#4541a6" stroke-width="1.5" fill="none"/><circle cx="1059.00" cy="618.90" r="8.20" stroke="#4541a6" stroke-width="1.5" fill="none"/><circle cx="536.00" cy="618.90" r="8.20" stroke="#4541a6" stroke-width="1.5" fill="none"/><circle cx="1059.00" cy="822.70" r="8.20" stroke="#4541a6" stroke-width="1.5" fill="none"/><circle cx="536.00" cy="758.09" r="8.20" stroke="#4541a6" stroke-width="1.5" fill="none"/><circle cx="1095.00" cy="269.80" r="8.20" stroke="#4541a6" stroke-width="1.5" fill="none"/><circle cx="572.00" cy="342.96" r="8.20" stroke="#4541a6" stroke-width="1.5" fill="none"/><circle cx="1095.00" cy="618.90" r="8.20" stroke="#4541a6" stroke-width="1.5" fill="none"/><circle cx="572.00" cy="618.90" r="8.20" stroke="#4541a6" stroke-width="1.5" fill="none"/><circle cx="1095.00" cy="795.80" r="8.20" stroke="#4541a6" stroke-width="1.5" fill="none"/><circle cx="572.00" cy="754.18" r="8.20" stroke="#4541a6" stroke-width="1.5" fill="none"/><path d="M697.80 351.40L705.60 364.60L690.00 364.60Z" stroke="#302d9c" stroke-width="1.7000000000000002" fill="none" stroke-linejoin="miter"/><path d="M174.80 354.00L182.60 367.20L167.00 367.20Z" stroke="#302d9c" stroke-width="1.7000000000000002" fill="none" stroke-linejoin="miter"/><path d="M697.80 480.30L705.60 493.50L690.00 493.50Z" stroke="#302d9c" stroke-width="1.7000000000000002" fill="none" stroke-linejoin="miter"/><path d="M174.80 480.30L182.60 493.50L167.00 493.50Z" stroke="#302d9c" stroke-width="1.7000000000000002" fill="none" stroke-linejoin="miter"/><path d="M697.80 913.30L705.60 926.50L690.00 926.50Z" stroke="#302d9c" stroke-width="1.7000000000000002" fill="none" stroke-linejoin="miter"/><path d="M174.80 765.63L182.60 778.83L167.00 778.83Z" stroke="#302d9c" stroke-width="1.7000000000000002" fill="none" stroke-linejoin="miter"/><path d="M736.70 342.80L744.50 356.00L728.90 356.00Z" stroke="#302d9c" stroke-width="1.7000000000000002" fill="none" stroke-linejoin="miter"/><path d="M213.70 352.28L221.50 365.48L205.90 365.48Z" stroke="#302d9c" stroke-width="1.7000000000000002" fill="none" stroke-linejoin="miter"/><path d="M736.70 480.30L744.50 493.50L728.90 493.50Z" stroke="#302d9c" stroke-width="1.7000000000000002" fill="none" stroke-linejoin="miter"/><path d="M213.70 480.30L221.50 493.50L205.90 493.50Z" stroke="#302d9c" stroke-width="1.7000000000000002" fill="none" stroke-linejoin="miter"/><path d="M736.70 922.90L744.50 936.10L728.90 936.10Z" stroke="#302d9c" stroke-width="1.7000000000000002" fill="none" stroke-linejoin="miter"/><path d="M213.70 767.03L221.50 780.23L205.90 780.23Z" stroke="#302d9c" stroke-width="1.7000000000000002" fill="none" stroke-linejoin="miter"/><path d="M776.40 330.90L784.20 344.10L768.60 344.10Z" stroke="#302d9c" stroke-width="1.7000000000000002" fill="none" stroke-linejoin="miter"/><path d="M253.40 349.90L261.20 363.10L245.60 363.10Z" stroke="#302d9c" stroke-width="1.7000000000000002" fill="none" stroke-linejoin="miter"/><path d="M776.40 480.30L784.20 493.50L768.60 493.50Z" stroke="#302d9c" stroke-width="1.7000000000000002" fill="none" stroke-linejoin="miter"/><path d="M253.40 480.30L261.20 493.50L245.60 493.50Z" stroke="#302d9c" stroke-width="1.7000000000000002" fill="none" stroke-linejoin="miter"/><path d="M776.40 924.90L784.20 938.10L768.60 938.10Z" stroke="#302d9c" stroke-width="1.7000000000000002" fill="none" stroke-linejoin="miter"/><path d="M253.40 767.32L261.20 780.52L245.60 780.52Z" stroke="#302d9c" stroke-width="1.7000000000000002" fill="none" stroke-linejoin="miter"/><path d="M815.60 315.90L823.40 329.10L807.80 329.10Z" stroke="#302d9c" stroke-width="1.7000000000000002" fill="none" stroke-linejoin="miter"/><path d="M292.60 346.90L300.40 360.10L284.80 360.10Z" stroke="#302d9c" stroke-width="1.7000000000000002" fill="none" stroke-linejoin="miter"/><path d="M815.60 480.30L823.40 493.50L807.80 493.50Z" stroke="#302d9c" stroke-width="1.7000000000000002" fill="none" stroke-linejoin="miter"/><path d="M292.60 480.30L300.40 493.50L284.80 493.50Z" stroke="#302d9c" stroke-width="1.7000000000000002" fill="none" stroke-linejoin="miter"/><path d="M815.60 882.90L823.40 896.10L807.80 896.10Z" stroke="#302d9c" stroke-width="1.7000000000000002" fill="none" stroke-linejoin="miter"/><path d="M292.60 761.21L300.40 774.41L284.80 774.41Z" stroke="#302d9c" stroke-width="1.7000000000000002" fill="none" stroke-linejoin="miter"/><path d="M854.60 301.50L862.40 314.70L846.80 314.70Z" stroke="#302d9c" stroke-width="1.7000000000000002" fill="none" stroke-linejoin="miter"/><path d="M331.60 344.02L339.40 357.22L323.80 357.22Z" stroke="#302d9c" stroke-width="1.7000000000000002" fill="none" stroke-linejoin="miter"/><path d="M854.60 480.30L862.40 493.50L846.80 493.50Z" stroke="#302d9c" stroke-width="1.7000000000000002" fill="none" stroke-linejoin="miter"/><path d="M331.60 480.30L339.40 493.50L323.80 493.50Z" stroke="#302d9c" stroke-width="1.7000000000000002" fill="none" stroke-linejoin="miter"/><path d="M854.60 887.50L862.40 900.70L846.80 900.70Z" stroke="#302d9c" stroke-width="1.7000000000000002" fill="none" stroke-linejoin="miter"/><path d="M331.60 761.88L339.40 775.08L323.80 775.08Z" stroke="#302d9c" stroke-width="1.7000000000000002" fill="none" stroke-linejoin="miter"/><path d="M893.50 288.40L901.30 301.60L885.70 301.60Z" stroke="#302d9c" stroke-width="1.7000000000000002" fill="none" stroke-linejoin="miter"/><path d="M370.50 341.40L378.30 354.60L362.70 354.60Z" stroke="#302d9c" stroke-width="1.7000000000000002" fill="none" stroke-linejoin="miter"/><path d="M893.50 481.30L901.30 494.50L885.70 494.50Z" stroke="#302d9c" stroke-width="1.7000000000000002" fill="none" stroke-linejoin="miter"/><path d="M370.50 481.30L378.30 494.50L362.70 494.50Z" stroke="#302d9c" stroke-width="1.7000000000000002" fill="none" stroke-linejoin="miter"/><path d="M893.50 890.40L901.30 903.60L885.70 903.60Z" stroke="#302d9c" stroke-width="1.7000000000000002" fill="none" stroke-linejoin="miter"/><path d="M370.50 762.30L378.30 775.50L362.70 775.50Z" stroke="#302d9c" stroke-width="1.7000000000000002" fill="none" stroke-linejoin="miter"/><path d="M933.00 278.80L940.80 292.00L925.20 292.00Z" stroke="#302d9c" stroke-width="1.7000000000000002" fill="none" stroke-linejoin="miter"/><path d="M410.00 339.48L417.80 352.68L402.20 352.68Z" stroke="#302d9c" stroke-width="1.7000000000000002" fill="none" stroke-linejoin="miter"/><path d="M933.00 481.30L940.80 494.50L925.20 494.50Z" stroke="#302d9c" stroke-width="1.7000000000000002" fill="none" stroke-linejoin="miter"/><path d="M410.00 481.30L417.80 494.50L402.20 494.50Z" stroke="#302d9c" stroke-width="1.7000000000000002" fill="none" stroke-linejoin="miter"/><path d="M933.00 884.20L940.80 897.40L925.20 897.40Z" stroke="#302d9c" stroke-width="1.7000000000000002" fill="none" stroke-linejoin="miter"/><path d="M410.00 761.40L417.80 774.60L402.20 774.60Z" stroke="#302d9c" stroke-width="1.7000000000000002" fill="none" stroke-linejoin="miter"/><path d="M972.70 267.60L980.50 280.80L964.90 280.80Z" stroke="#302d9c" stroke-width="1.7000000000000002" fill="none" stroke-linejoin="miter"/><path d="M449.70 337.24L457.50 350.44L441.90 350.44Z" stroke="#302d9c" stroke-width="1.7000000000000002" fill="none" stroke-linejoin="miter"/><path d="M972.70 481.30L980.50 494.50L964.90 494.50Z" stroke="#302d9c" stroke-width="1.7000000000000002" fill="none" stroke-linejoin="miter"/><path d="M449.70 481.30L457.50 494.50L441.90 494.50Z" stroke="#302d9c" stroke-width="1.7000000000000002" fill="none" stroke-linejoin="miter"/><path d="M972.70 878.70L980.50 891.90L964.90 891.90Z" stroke="#302d9c" stroke-width="1.7000000000000002" fill="none" stroke-linejoin="miter"/><path d="M449.70 760.60L457.50 773.80L441.90 773.80Z" stroke="#302d9c" stroke-width="1.7000000000000002" fill="none" stroke-linejoin="miter"/><path d="M1012.30 259.60L1020.10 272.80L1004.50 272.80Z" stroke="#302d9c" stroke-width="1.7000000000000002" fill="none" stroke-linejoin="miter"/><path d="M489.30 335.64L497.10 348.84L481.50 348.84Z" stroke="#302d9c" stroke-width="1.7000000000000002" fill="none" stroke-linejoin="miter"/><path d="M1012.30 481.30L1020.10 494.50L1004.50 494.50Z" stroke="#302d9c" stroke-width="1.7000000000000002" fill="none" stroke-linejoin="miter"/><path d="M489.30 481.30L497.10 494.50L481.50 494.50Z" stroke="#302d9c" stroke-width="1.7000000000000002" fill="none" stroke-linejoin="miter"/><path d="M1012.30 862.50L1020.10 875.70L1004.50 875.70Z" stroke="#302d9c" stroke-width="1.7000000000000002" fill="none" stroke-linejoin="miter"/><path d="M489.30 758.24L497.10 771.44L481.50 771.44Z" stroke="#302d9c" stroke-width="1.7000000000000002" fill="none" stroke-linejoin="miter"/><path d="M1050.90 251.30L1058.70 264.50L1043.10 264.50Z" stroke="#302d9c" stroke-width="1.7000000000000002" fill="none" stroke-linejoin="miter"/><path d="M527.90 333.98L535.70 347.18L520.10 347.18Z" stroke="#302d9c" stroke-width="1.7000000000000002" fill="none" stroke-linejoin="miter"/><path d="M1050.90 481.30L1058.70 494.50L1043.10 494.50Z" stroke="#302d9c" stroke-width="1.7000000000000002" fill="none" stroke-linejoin="miter"/><path d="M527.90 481.30L535.70 494.50L520.10 494.50Z" stroke="#302d9c" stroke-width="1.7000000000000002" fill="none" stroke-linejoin="miter"/><path d="M1050.90 890.00L1058.70 903.20L1043.10 903.20Z" stroke="#302d9c" stroke-width="1.7000000000000002" fill="none" stroke-linejoin="miter"/><path d="M527.90 762.24L535.70 775.44L520.10 775.44Z" stroke="#302d9c" stroke-width="1.7000000000000002" fill="none" stroke-linejoin="miter"/><path d="M1090.10 236.40L1097.90 249.60L1082.30 249.60Z" stroke="#302d9c" stroke-width="1.7000000000000002" fill="none" stroke-linejoin="miter"/><path d="M567.10 331.00L574.90 344.20L559.30 344.20Z" stroke="#302d9c" stroke-width="1.7000000000000002" fill="none" stroke-linejoin="miter"/><path d="M1090.10 481.30L1097.90 494.50L1082.30 494.50Z" stroke="#302d9c" stroke-width="1.7000000000000002" fill="none" stroke-linejoin="miter"/><path d="M567.10 481.30L574.90 494.50L559.30 494.50Z" stroke="#302d9c" stroke-width="1.7000000000000002" fill="none" stroke-linejoin="miter"/><path d="M1090.10 859.10L1097.90 872.30L1082.30 872.30Z" stroke="#302d9c" stroke-width="1.7000000000000002" fill="none" stroke-linejoin="miter"/><path d="M567.10 757.75L574.90 770.95L559.30 770.95Z" stroke="#302d9c" stroke-width="1.7000000000000002" fill="none" stroke-linejoin="miter"/><path d="M672.20 353.25L680.20 361.25L672.20 369.25L664.20 361.25Z" stroke="#26265e" stroke-width="1.8" fill="none"/><path d="M149.20 353.25L157.20 361.25L149.20 369.25L141.20 361.25Z" stroke="#26265e" stroke-width="1.8" fill="none"/><path d="M672.20 467.70L680.20 475.70L672.20 483.70L664.20 475.70Z" stroke="#302d9c" stroke-width="1.8" fill="none"/><path d="M149.20 467.70L157.20 475.70L149.20 483.70L141.20 475.70Z" stroke="#302d9c" stroke-width="1.8" fill="none"/><path d="M672.20 736.50L680.20 744.50L672.20 752.50L664.20 744.50Z" stroke="#302d9c" stroke-width="1.8" fill="none"/><path d="M149.20 738.72L157.20 746.72L149.20 754.72L141.20 746.72Z" stroke="#302d9c" stroke-width="1.8" fill="none"/><path d="M710.30 320.00L718.30 328.00L710.30 336.00L702.30 328.00Z" stroke="#26265e" stroke-width="1.8" fill="none"/><path d="M187.30 346.60L195.30 354.60L187.30 362.60L179.30 354.60Z" stroke="#26265e" stroke-width="1.8" fill="none"/><path d="M710.30 466.70L718.30 474.70L710.30 482.70L702.30 474.70Z" stroke="#302d9c" stroke-width="1.8" fill="none"/><path d="M187.30 466.70L195.30 474.70L187.30 482.70L179.30 474.70Z" stroke="#302d9c" stroke-width="1.8" fill="none"/><path d="M710.30 783.80L718.30 791.80L710.30 799.80L702.30 791.80Z" stroke="#302d9c" stroke-width="1.8" fill="none"/><path d="M187.30 745.60L195.30 753.60L187.30 761.60L179.30 753.60Z" stroke="#302d9c" stroke-width="1.8" fill="none"/><path d="M748.30 296.40L756.30 304.40L748.30 312.40L740.30 304.40Z" stroke="#26265e" stroke-width="1.8" fill="none"/><path d="M225.30 341.88L233.30 349.88L225.30 357.88L217.30 349.88Z" stroke="#26265e" stroke-width="1.8" fill="none"/><path d="M748.30 466.70L756.30 474.70L748.30 482.70L740.30 474.70Z" stroke="#302d9c" stroke-width="1.8" fill="none"/><path d="M225.30 466.70L233.30 474.70L225.30 482.70L217.30 474.70Z" stroke="#302d9c" stroke-width="1.8" fill="none"/><path d="M748.30 780.10L756.30 788.10L748.30 796.10L740.30 788.10Z" stroke="#302d9c" stroke-width="1.8" fill="none"/><path d="M225.30 745.06L233.30 753.06L225.30 761.06L217.30 753.06Z" stroke="#302d9c" stroke-width="1.8" fill="none"/><path d="M787.10 271.00L795.10 279.00L787.10 287.00L779.10 279.00Z" stroke="#26265e" stroke-width="1.8" fill="none"/><path d="M264.10 336.80L272.10 344.80L264.10 352.80L256.10 344.80Z" stroke="#26265e" stroke-width="1.8" fill="none"/><path d="M787.10 466.70L795.10 474.70L787.10 482.70L779.10 474.70Z" stroke="#302d9c" stroke-width="1.8" fill="none"/><path d="M264.10 466.70L272.10 474.70L264.10 482.70L256.10 474.70Z" stroke="#302d9c" stroke-width="1.8" fill="none"/><path d="M787.10 802.50L795.10 810.50L787.10 818.50L779.10 810.50Z" stroke="#302d9c" stroke-width="1.8" fill="none"/><path d="M264.10 748.32L272.10 756.32L264.10 764.32L256.10 756.32Z" stroke="#302d9c" stroke-width="1.8" fill="none"/><path d="M825.10 244.00L833.10 252.00L825.10 260.00L817.10 252.00Z" stroke="#26265e" stroke-width="1.8" fill="none"/><path d="M302.10 331.40L310.10 339.40L302.10 347.40L294.10 339.40Z" stroke="#26265e" stroke-width="1.8" fill="none"/><path d="M825.10 466.30L833.10 474.30L825.10 482.30L817.10 474.30Z" stroke="#302d9c" stroke-width="1.8" fill="none"/><path d="M302.10 466.30L310.10 474.30L302.10 482.30L294.10 474.30Z" stroke="#302d9c" stroke-width="1.8" fill="none"/><path d="M825.10 822.80L833.10 830.80L825.10 838.80L817.10 830.80Z" stroke="#302d9c" stroke-width="1.8" fill="none"/><path d="M302.10 751.27L310.10 759.27L302.10 767.27L294.10 759.27Z" stroke="#302d9c" stroke-width="1.8" fill="none"/><path d="M863.70 214.00L871.70 222.00L863.70 230.00L855.70 222.00Z" stroke="#26265e" stroke-width="1.8" fill="none"/><path d="M340.70 325.40L348.70 333.40L340.70 341.40L332.70 333.40Z" stroke="#26265e" stroke-width="1.8" fill="none"/><path d="M863.70 465.70L871.70 473.70L863.70 481.70L855.70 473.70Z" stroke="#302d9c" stroke-width="1.8" fill="none"/><path d="M340.70 465.70L348.70 473.70L340.70 481.70L332.70 473.70Z" stroke="#302d9c" stroke-width="1.8" fill="none"/><path d="M863.70 845.50L871.70 853.50L863.70 861.50L855.70 853.50Z" stroke="#302d9c" stroke-width="1.8" fill="none"/><path d="M340.70 754.57L348.70 762.57L340.70 770.57L332.70 762.57Z" stroke="#302d9c" stroke-width="1.8" fill="none"/><path d="M902.00 185.20L910.00 193.20L902.00 201.20L894.00 193.20Z" stroke="#26265e" stroke-width="1.8" fill="none"/><path d="M379.00 319.64L387.00 327.64L379.00 335.64L371.00 327.64Z" stroke="#26265e" stroke-width="1.8" fill="none"/><path d="M902.00 464.70L910.00 472.70L902.00 480.70L894.00 472.70Z" stroke="#302d9c" stroke-width="1.8" fill="none"/><path d="M379.00 464.70L387.00 472.70L379.00 480.70L371.00 472.70Z" stroke="#302d9c" stroke-width="1.8" fill="none"/><path d="M902.00 855.30L910.00 863.30L902.00 871.30L894.00 863.30Z" stroke="#302d9c" stroke-width="1.8" fill="none"/><path d="M379.00 756.00L387.00 764.00L379.00 772.00L371.00 764.00Z" stroke="#302d9c" stroke-width="1.8" fill="none"/><path d="M940.20 162.90L948.20 170.90L940.20 178.90L932.20 170.90Z" stroke="#302d9c" stroke-width="1.8" fill="none"/><path d="M417.20 315.18L425.20 323.18L417.20 331.18L409.20 323.18Z" stroke="#26265e" stroke-width="1.8" fill="none"/><path d="M940.20 464.70L948.20 472.70L940.20 480.70L932.20 472.70Z" stroke="#302d9c" stroke-width="1.8" fill="none"/><path d="M417.20 464.70L425.20 472.70L417.20 480.70L409.20 472.70Z" stroke="#302d9c" stroke-width="1.8" fill="none"/><path d="M940.20 864.30L948.20 872.30L940.20 880.30L932.20 872.30Z" stroke="#302d9c" stroke-width="1.8" fill="none"/><path d="M417.20 757.31L425.20 765.31L417.20 773.31L409.20 765.31Z" stroke="#302d9c" stroke-width="1.8" fill="none"/><path d="M978.80 136.00L986.80 144.00L978.80 152.00L970.80 144.00Z" stroke="#302d9c" stroke-width="1.8" fill="none"/><path d="M455.80 309.80L463.80 317.80L455.80 325.80L447.80 317.80Z" stroke="#26265e" stroke-width="1.8" fill="none"/><path d="M978.80 464.70L986.80 472.70L978.80 480.70L970.80 472.70Z" stroke="#302d9c" stroke-width="1.8" fill="none"/><path d="M455.80 464.70L463.80 472.70L455.80 480.70L447.80 472.70Z" stroke="#302d9c" stroke-width="1.8" fill="none"/><path d="M978.80 870.20L986.80 878.20L978.80 886.20L970.80 878.20Z" stroke="#302d9c" stroke-width="1.8" fill="none"/><path d="M455.80 758.16L463.80 766.16L455.80 774.16L447.80 766.16Z" stroke="#302d9c" stroke-width="1.8" fill="none"/><path d="M1017.00 107.70L1025.00 115.70L1017.00 123.70L1009.00 115.70Z" stroke="#302d9c" stroke-width="1.8" fill="none"/><path d="M494.00 304.14L502.00 312.14L494.00 320.14L486.00 312.14Z" stroke="#26265e" stroke-width="1.8" fill="none"/><path d="M1017.00 464.70L1025.00 472.70L1017.00 480.70L1009.00 472.70Z" stroke="#302d9c" stroke-width="1.8" fill="none"/><path d="M494.00 464.70L502.00 472.70L494.00 480.70L486.00 472.70Z" stroke="#302d9c" stroke-width="1.8" fill="none"/><path d="M1017.00 880.50L1025.00 888.50L1017.00 896.50L1009.00 888.50Z" stroke="#302d9c" stroke-width="1.8" fill="none"/><path d="M494.00 759.66L502.00 767.66L494.00 775.66L486.00 767.66Z" stroke="#302d9c" stroke-width="1.8" fill="none"/><path d="M1055.00 83.60L1063.00 91.60L1055.00 99.60L1047.00 91.60Z" stroke="#302d9c" stroke-width="1.8" fill="none"/><path d="M532.00 299.32L540.00 307.32L532.00 315.32L524.00 307.32Z" stroke="#302d9c" stroke-width="1.8" fill="none"/><path d="M1055.00 464.70L1063.00 472.70L1055.00 480.70L1047.00 472.70Z" stroke="#302d9c" stroke-width="1.8" fill="none"/><path d="M532.00 464.70L540.00 472.70L532.00 480.70L524.00 472.70Z" stroke="#302d9c" stroke-width="1.8" fill="none"/><path d="M1055.00 888.60L1063.00 896.60L1055.00 904.60L1047.00 896.60Z" stroke="#302d9c" stroke-width="1.8" fill="none"/><path d="M532.00 760.84L540.00 768.84L532.00 776.84L524.00 768.84Z" stroke="#302d9c" stroke-width="1.8" fill="none"/><path d="M1093.50 56.50L1101.50 64.50L1093.50 72.50L1085.50 64.50Z" stroke="#302d9c" stroke-width="1.8" fill="none"/><path d="M570.50 293.90L578.50 301.90L570.50 309.90L562.50 301.90Z" stroke="#302d9c" stroke-width="1.8" fill="none"/><path d="M1093.50 464.70L1101.50 472.70L1093.50 480.70L1085.50 472.70Z" stroke="#302d9c" stroke-width="1.8" fill="none"/><path d="M570.50 464.70L578.50 472.70L570.50 480.70L562.50 472.70Z" stroke="#302d9c" stroke-width="1.8" fill="none"/><path d="M1093.50 885.50L1101.50 893.50L1093.50 901.50L1085.50 893.50Z" stroke="#302d9c" stroke-width="1.8" fill="none"/><path d="M570.50 760.39L578.50 768.39L570.50 776.39L562.50 768.39Z" stroke="#302d9c" stroke-width="1.8" fill="none"/><path d="M135.90 361.25H153.50M144.70 352.45V370.05" stroke="#24243e" stroke-width="2.1" fill="none"/><path d="M178.50 327.70H196.10M187.30 318.90V336.50" stroke="#24243e" stroke-width="2.1" fill="none"/><path d="M220.80 296.20H238.40M229.60 287.40V305.00" stroke="#24243e" stroke-width="2.1" fill="none"/><path d="M262.40 265.70H280.00M271.20 256.90V274.50" stroke="#24243e" stroke-width="2.1" fill="none"/><path d="M304.50 235.20H322.10M313.30 226.40V244.00" stroke="#24243e" stroke-width="2.1" fill="none"/><path d="M347.00 205.50H364.60M355.80 196.70V214.30" stroke="#24243e" stroke-width="2.1" fill="none"/><path d="M388.70 177.70H406.30M397.50 168.90V186.50" stroke="#24243e" stroke-width="2.1" fill="none"/><path d="M430.70 149.70H448.30M439.50 140.90V158.50" stroke="#24243e" stroke-width="2.1" fill="none"/><path d="M472.80 121.90H490.40M481.60 113.10V130.70" stroke="#24243e" stroke-width="2.1" fill="none"/><path d="M514.60 94.40H532.20M523.40 85.60V103.20" stroke="#24243e" stroke-width="2.1" fill="none"/><path d="M556.30 69.00H573.90M565.10 60.20V77.80" stroke="#24243e" stroke-width="2.1" fill="none"/><path d="M132.80 361.25H150.40M141.60 352.45V370.05" stroke="#2a2a2a" stroke-width="2.1" fill="none"/><path d="M174.50 361.25H192.10M183.30 352.45V370.05" stroke="#2a2a2a" stroke-width="2.1" fill="none"/><path d="M216.50 330.10H234.10M225.30 321.30V338.90" stroke="#2a2a2a" stroke-width="2.1" fill="none"/><path d="M258.20 298.80H275.80M267.00 290.00V307.60" stroke="#2a2a2a" stroke-width="2.1" fill="none"/><path d="M300.40 268.80H318.00M309.20 260.00V277.60" stroke="#2a2a2a" stroke-width="2.1" fill="none"/><path d="M342.50 238.70H360.10M351.30 229.90V247.50" stroke="#2a2a2a" stroke-width="2.1" fill="none"/><path d="M384.40 210.60H402.00M393.20 201.80V219.40" stroke="#2a2a2a" stroke-width="2.1" fill="none"/><path d="M426.30 183.20H443.90M435.10 174.40V192.00" stroke="#2a2a2a" stroke-width="2.1" fill="none"/><path d="M467.70 155.20H485.30M476.50 146.40V164.00" stroke="#2a2a2a" stroke-width="2.1" fill="none"/><path d="M509.50 128.80H527.10M518.30 120.00V137.60" stroke="#2a2a2a" stroke-width="2.1" fill="none"/><path d="M551.20 102.00H568.80M560.00 93.20V110.80" stroke="#2a2a2a" stroke-width="2.1" fill="none"/><path d="M135.90 380.80H153.50M144.70 372.00V389.60" stroke="#24243e" stroke-width="2.1" fill="none"/><path d="M178.50 382.90H196.10M187.30 374.10V391.70" stroke="#24243e" stroke-width="2.1" fill="none"/><path d="M220.80 385.30H238.40M229.60 376.50V394.10" stroke="#24243e" stroke-width="2.1" fill="none"/><path d="M262.40 386.30H280.00M271.20 377.50V395.10" stroke="#24243e" stroke-width="2.1" fill="none"/><path d="M304.50 388.40H322.10M313.30 379.60V397.20" stroke="#24243e" stroke-width="2.1" fill="none"/><path d="M347.00 390.40H364.60M355.80 381.60V399.20" stroke="#24243e" stroke-width="2.1" fill="none"/><path d="M388.70 391.40H406.30M397.50 382.60V400.20" stroke="#24243e" stroke-width="2.1" fill="none"/><path d="M430.70 393.40H448.30M439.50 384.60V402.20" stroke="#24243e" stroke-width="2.1" fill="none"/><path d="M472.80 395.10H490.40M481.60 386.30V403.90" stroke="#24243e" stroke-width="2.1" fill="none"/><path d="M514.60 396.50H532.20M523.40 387.70V405.30" stroke="#24243e" stroke-width="2.1" fill="none"/><path d="M556.30 397.90H573.90M565.10 389.10V406.70" stroke="#24243e" stroke-width="2.1" fill="none"/><path d="M132.80 500.00H150.40M141.60 491.20V508.80" stroke="#2a2a2a" stroke-width="2.1" fill="none"/><path d="M174.50 389.80H192.10M183.30 381.00V398.60" stroke="#2a2a2a" stroke-width="2.1" fill="none"/><path d="M216.50 391.80H234.10M225.30 383.00V400.60" stroke="#2a2a2a" stroke-width="2.1" fill="none"/><path d="M258.20 393.40H275.80M267.00 384.60V402.20" stroke="#2a2a2a" stroke-width="2.1" fill="none"/><path d="M300.40 395.10H318.00M309.20 386.30V403.90" stroke="#2a2a2a" stroke-width="2.1" fill="none"/><path d="M342.50 396.90H360.10M351.30 388.10V405.70" stroke="#2a2a2a" stroke-width="2.1" fill="none"/><path d="M384.40 398.50H402.00M393.20 389.70V407.30" stroke="#2a2a2a" stroke-width="2.1" fill="none"/><path d="M426.30 400.50H443.90M435.10 391.70V409.30" stroke="#2a2a2a" stroke-width="2.1" fill="none"/><path d="M467.70 401.60H485.30M476.50 392.80V410.40" stroke="#2a2a2a" stroke-width="2.1" fill="none"/><path d="M509.50 403.20H527.10M518.30 394.40V412.00" stroke="#2a2a2a" stroke-width="2.1" fill="none"/><path d="M551.20 404.60H568.80M560.00 395.80V413.40" stroke="#2a2a2a" stroke-width="2.1" fill="none"/><path d="M135.90 996.70H153.50M144.70 987.90V1005.50" stroke="#24243e" stroke-width="2.1" fill="none"/><path d="M178.50 962.50H196.10M187.30 953.70V971.30" stroke="#24243e" stroke-width="2.1" fill="none"/><path d="M220.80 957.50H238.40M229.60 948.70V966.30" stroke="#24243e" stroke-width="2.1" fill="none"/><path d="M262.40 952.50H280.00M271.20 943.70V961.30" stroke="#24243e" stroke-width="2.1" fill="none"/><path d="M304.50 946.90H322.10M313.30 938.10V955.70" stroke="#24243e" stroke-width="2.1" fill="none"/><path d="M347.00 944.40H364.60M355.80 935.60V953.20" stroke="#24243e" stroke-width="2.1" fill="none"/><path d="M388.70 940.00H406.30M397.50 931.20V948.80" stroke="#24243e" stroke-width="2.1" fill="none"/><path d="M430.70 937.50H448.30M439.50 928.70V946.30" stroke="#24243e" stroke-width="2.1" fill="none"/><path d="M472.80 932.75H490.40M481.60 923.95V941.55" stroke="#24243e" stroke-width="2.1" fill="none"/><path d="M514.60 929.20H532.20M523.40 920.40V938.00" stroke="#24243e" stroke-width="2.1" fill="none"/><path d="M556.30 924.40H573.90M565.10 915.60V933.20" stroke="#24243e" stroke-width="2.1" fill="none"/><path d="M174.50 960.00H192.10M183.30 951.20V968.80" stroke="#2a2a2a" stroke-width="2.1" fill="none"/><path d="M216.50 956.25H234.10M225.30 947.45V965.05" stroke="#2a2a2a" stroke-width="2.1" fill="none"/><path d="M258.20 952.50H275.80M267.00 943.70V961.30" stroke="#2a2a2a" stroke-width="2.1" fill="none"/><path d="M300.40 951.25H318.00M309.20 942.45V960.05" stroke="#2a2a2a" stroke-width="2.1" fill="none"/><path d="M342.50 944.40H360.10M351.30 935.60V953.20" stroke="#2a2a2a" stroke-width="2.1" fill="none"/><path d="M384.40 941.90H402.00M393.20 933.10V950.70" stroke="#2a2a2a" stroke-width="2.1" fill="none"/><path d="M426.30 935.60H443.90M435.10 926.80V944.40" stroke="#2a2a2a" stroke-width="2.1" fill="none"/><path d="M467.70 933.50H485.30M476.50 924.70V942.30" stroke="#2a2a2a" stroke-width="2.1" fill="none"/><path d="M509.50 929.20H527.10M518.30 920.40V938.00" stroke="#2a2a2a" stroke-width="2.1" fill="none"/><path d="M551.20 924.40H568.80M560.00 915.60V933.20" stroke="#2a2a2a" stroke-width="2.1" fill="none"/></g>
<g><rect x="101.0" y="12.5" width="1046.0" height="1046.25" fill="none" stroke="#222" stroke-width="2"/><path d="M624.0 12.5V1058.75M101.0 361.25H1147.0M101.0 710.0H1147.0" stroke="#222" stroke-width="2" fill="none"/><path d="M101.00 12.5v10M101.00 1058.75v-10M101.00 351.25v20M101.00 700.0v20M144.58 12.5v5M144.58 1058.75v-5M144.58 356.25v10M144.58 705.0v10M188.17 12.5v5M188.17 1058.75v-5M188.17 356.25v10M188.17 705.0v10M231.75 12.5v5M231.75 1058.75v-5M231.75 356.25v10M231.75 705.0v10M275.33 12.5v10M275.33 1058.75v-10M275.33 351.25v20M275.33 700.0v20M318.92 12.5v5M318.92 1058.75v-5M318.92 356.25v10M318.92 705.0v10M362.50 12.5v5M362.50 1058.75v-5M362.50 356.25v10M362.50 705.0v10M406.08 12.5v5M406.08 1058.75v-5M406.08 356.25v10M406.08 705.0v10M449.67 12.5v10M449.67 1058.75v-10M449.67 351.25v20M449.67 700.0v20M493.25 12.5v5M493.25 1058.75v-5M493.25 356.25v10M493.25 705.0v10M536.83 12.5v5M536.83 1058.75v-5M536.83 356.25v10M536.83 705.0v10M580.42 12.5v5M580.42 1058.75v-5M580.42 356.25v10M580.42 705.0v10M624.00 12.5v10M624.00 1058.75v-10M624.00 351.25v20M624.00 700.0v20M624.00 12.5v10M624.00 1058.75v-10M624.00 351.25v20M624.00 700.0v20M667.58 12.5v5M667.58 1058.75v-5M667.58 356.25v10M667.58 705.0v10M711.17 12.5v5M711.17 1058.75v-5M711.17 356.25v10M711.17 705.0v10M754.75 12.5v5M754.75 1058.75v-5M754.75 356.25v10M754.75 705.0v10M798.33 12.5v10M798.33 1058.75v-10M798.33 351.25v20M798.33 700.0v20M841.92 12.5v5M841.92 1058.75v-5M841.92 356.25v10M841.92 705.0v10M885.50 12.5v5M885.50 1058.75v-5M885.50 356.25v10M885.50 705.0v10M929.08 12.5v5M929.08 1058.75v-5M929.08 356.25v10M929.08 705.0v10M972.67 12.5v10M972.67 1058.75v-10M972.67 351.25v20M972.67 700.0v20M1016.25 12.5v5M1016.25 1058.75v-5M1016.25 356.25v10M1016.25 705.0v10M1059.83 12.5v5M1059.83 1058.75v-5M1059.83 356.25v10M1059.83 705.0v10M1103.42 12.5v5M1103.42 1058.75v-5M1103.42 356.25v10M1103.42 705.0v10M1147.00 12.5v10M1147.00 1058.75v-10M1147.00 351.25v20M1147.00 700.0v20M101.0 361.25h10M624.0 361.25h-10M101.0 343.81h5M624.0 343.81h-5M101.0 326.38h5M624.0 326.38h-5M101.0 308.94h5M624.0 308.94h-5M101.0 291.50h10M624.0 291.50h-10M101.0 274.06h5M624.0 274.06h-5M101.0 256.62h5M624.0 256.62h-5M101.0 239.19h5M624.0 239.19h-5M101.0 221.75h10M624.0 221.75h-10M101.0 204.31h5M624.0 204.31h-5M101.0 186.88h5M624.0 186.88h-5M101.0 169.44h5M624.0 169.44h-5M101.0 152.00h10M624.0 152.00h-10M101.0 134.56h5M624.0 134.56h-5M101.0 117.13h5M624.0 117.13h-5M101.0 99.69h5M624.0 99.69h-5M101.0 82.25h10M624.0 82.25h-10M101.0 64.81h5M624.0 64.81h-5M101.0 47.38h5M624.0 47.38h-5M101.0 29.94h5M624.0 29.94h-5M101.0 12.50h10M624.0 12.50h-10M1147.0 361.25h-10M624.0 361.25h10M1147.0 343.81h-5M624.0 343.81h5M1147.0 326.38h-5M624.0 326.38h5M1147.0 308.94h-5M624.0 308.94h5M1147.0 291.50h-10M624.0 291.50h10M1147.0 274.06h-5M624.0 274.06h5M1147.0 256.62h-5M624.0 256.62h5M1147.0 239.19h-5M624.0 239.19h5M1147.0 221.75h-10M624.0 221.75h10M1147.0 204.31h-5M624.0 204.31h5M1147.0 186.88h-5M624.0 186.88h5M1147.0 169.44h-5M624.0 169.44h5M1147.0 152.00h-10M624.0 152.00h10M1147.0 134.56h-5M624.0 134.56h5M1147.0 117.12h-5M624.0 117.12h5M1147.0 99.69h-5M624.0 99.69h5M1147.0 82.25h-10M624.0 82.25h10M1147.0 64.81h-5M624.0 64.81h5M1147.0 47.38h-5M624.0 47.38h5M1147.0 29.94h-5M624.0 29.94h5M1147.0 12.50h-10M624.0 12.50h10M101.0 699.10h5M624.0 699.10h-5M101.0 680.94h10M624.0 680.94h-10M101.0 662.77h5M624.0 662.77h-5M101.0 644.61h5M624.0 644.61h-5M101.0 626.45h5M624.0 626.45h-5M101.0 608.28h10M624.0 608.28h-10M101.0 590.12h5M624.0 590.12h-5M101.0 571.95h5M624.0 571.95h-5M101.0 553.79h5M624.0 553.79h-5M101.0 535.62h10M624.0 535.62h-10M101.0 517.46h5M624.0 517.46h-5M101.0 499.30h5M624.0 499.30h-5M101.0 481.13h5M624.0 481.13h-5M101.0 462.97h10M624.0 462.97h-10M101.0 444.80h5M624.0 444.80h-5M101.0 426.64h5M624.0 426.64h-5M101.0 408.48h5M624.0 408.48h-5M101.0 390.31h10M624.0 390.31h-10M101.0 372.15h5M624.0 372.15h-5M1147.0 699.10h-5M624.0 699.10h5M1147.0 680.94h-10M624.0 680.94h10M1147.0 662.77h-5M624.0 662.77h5M1147.0 644.61h-5M624.0 644.61h5M1147.0 626.45h-5M624.0 626.45h5M1147.0 608.28h-10M624.0 608.28h10M1147.0 590.12h-5M624.0 590.12h5M1147.0 571.95h-5M624.0 571.95h5M1147.0 553.79h-5M624.0 553.79h5M1147.0 535.62h-10M624.0 535.62h10M1147.0 517.46h-5M624.0 517.46h5M1147.0 499.30h-5M624.0 499.30h5M1147.0 481.13h-5M624.0 481.13h5M1147.0 462.97h-10M624.0 462.97h10M1147.0 444.80h-5M624.0 444.80h5M1147.0 426.64h-5M624.0 426.64h5M1147.0 408.48h-5M624.0 408.48h5M1147.0 390.31h-10M624.0 390.31h10M1147.0 372.15h-5M624.0 372.15h5M101.0 1058.75h5M624.0 1058.75h-5M101.0 1027.05h5M624.0 1027.05h-5M101.0 995.34h10M624.0 995.34h-10M101.0 963.64h5M624.0 963.64h-5M101.0 931.93h5M624.0 931.93h-5M101.0 900.23h5M624.0 900.23h-5M101.0 868.52h10M624.0 868.52h-10M101.0 836.82h5M624.0 836.82h-5M101.0 805.11h5M624.0 805.11h-5M101.0 773.41h5M624.0 773.41h-5M101.0 741.70h10M624.0 741.70h-10M101.0 710.00h5M624.0 710.00h-5M1147.0 1058.75h-10M624.0 1058.75h10M1147.0 1036.95h-5M624.0 1036.95h5M1147.0 1015.16h-5M624.0 1015.16h5M1147.0 993.36h-5M624.0 993.36h5M1147.0 971.56h-10M624.0 971.56h10M1147.0 949.77h-5M624.0 949.77h5M1147.0 927.97h-5M624.0 927.97h5M1147.0 906.17h-5M624.0 906.17h5M1147.0 884.37h-10M624.0 884.37h10M1147.0 862.58h-5M624.0 862.58h5M1147.0 840.78h-5M624.0 840.78h5M1147.0 818.98h-5M624.0 818.98h5M1147.0 797.19h-10M624.0 797.19h10M1147.0 775.39h-5M624.0 775.39h5M1147.0 753.59h-5M624.0 753.59h5M1147.0 731.80h-5M624.0 731.80h5M1147.0 710.00h-10M624.0 710.00h10" stroke="#222" stroke-width="1.8" fill="none"/></g>
<g><text x="93.0" y="368.8" text-anchor="end" style="font-size:21.5px;letter-spacing:0.35px">0</text><text x="93.0" y="299.0" text-anchor="end" style="font-size:21.5px;letter-spacing:0.35px">0.5</text><text x="93.0" y="229.2" text-anchor="end" style="font-size:21.5px;letter-spacing:0.35px">1</text><text x="93.0" y="159.5" text-anchor="end" style="font-size:21.5px;letter-spacing:0.35px">1.5</text><text x="93.0" y="89.8" text-anchor="end" style="font-size:21.5px;letter-spacing:0.35px">2</text><text x="93.0" y="20.0" text-anchor="end" style="font-size:21.5px;letter-spacing:0.35px">2.5</text><text x="1155.0" y="368.8" text-anchor="start" style="font-size:21.5px;letter-spacing:0.35px">0</text><text x="1155.0" y="299.0" text-anchor="start" style="font-size:21.5px;letter-spacing:0.35px">0.1</text><text x="1155.0" y="229.2" text-anchor="start" style="font-size:21.5px;letter-spacing:0.35px">0.2</text><text x="1155.0" y="159.5" text-anchor="start" style="font-size:21.5px;letter-spacing:0.35px">0.3</text><text x="1155.0" y="89.8" text-anchor="start" style="font-size:21.5px;letter-spacing:0.35px">0.4</text><text x="1155.0" y="20.0" text-anchor="start" style="font-size:21.5px;letter-spacing:0.35px">0.5</text><text x="93.0" y="688.4" text-anchor="end" style="font-size:21.5px;letter-spacing:0.35px">80</text><text x="1155.0" y="688.4" text-anchor="start" style="font-size:21.5px;letter-spacing:0.35px">80</text><text x="93.0" y="615.8" text-anchor="end" style="font-size:21.5px;letter-spacing:0.35px">85</text><text x="1155.0" y="615.8" text-anchor="start" style="font-size:21.5px;letter-spacing:0.35px">85</text><text x="93.0" y="543.1" text-anchor="end" style="font-size:21.5px;letter-spacing:0.35px">90</text><text x="1155.0" y="543.1" text-anchor="start" style="font-size:21.5px;letter-spacing:0.35px">90</text><text x="93.0" y="470.5" text-anchor="end" style="font-size:21.5px;letter-spacing:0.35px">95</text><text x="1155.0" y="470.5" text-anchor="start" style="font-size:21.5px;letter-spacing:0.35px">95</text><text x="93.0" y="397.8" text-anchor="end" style="font-size:21.5px;letter-spacing:0.35px">100</text><text x="1155.0" y="397.8" text-anchor="start" style="font-size:21.5px;letter-spacing:0.35px">100</text><text x="93.0" y="749.2" text-anchor="end" style="font-size:21.5px;letter-spacing:0.35px">1</text><text x="93.0" y="876.0" text-anchor="end" style="font-size:21.5px;letter-spacing:0.35px">0.998</text><text x="93.0" y="1002.8" text-anchor="end" style="font-size:21.5px;letter-spacing:0.35px">0.996</text><text x="1155.0" y="717.5" text-anchor="start" style="font-size:21.5px;letter-spacing:0.35px">1</text><text x="1155.0" y="804.7" text-anchor="start" style="font-size:21.5px;letter-spacing:0.35px">0.9998</text><text x="1155.0" y="891.9" text-anchor="start" style="font-size:21.5px;letter-spacing:0.35px">0.9996</text><text x="1155.0" y="979.1" text-anchor="start" style="font-size:21.5px;letter-spacing:0.35px">0.9994</text><text x="1155.0" y="1066.2" text-anchor="start" style="font-size:21.5px;letter-spacing:0.35px">0.9992</text><text x="102.0" y="1087.5" text-anchor="middle" style="font-size:21.5px;letter-spacing:0.35px">400</text><text x="276.3" y="1087.5" text-anchor="middle" style="font-size:21.5px;letter-spacing:0.35px">600</text><text x="450.7" y="1087.5" text-anchor="middle" style="font-size:21.5px;letter-spacing:0.35px">800</text><text x="625.0" y="1087.5" text-anchor="middle" style="font-size:21.5px;letter-spacing:0.35px">1000</text><text x="799.3" y="1087.5" text-anchor="middle" style="font-size:21.5px;letter-spacing:0.35px">600</text><text x="973.7" y="1087.5" text-anchor="middle" style="font-size:21.5px;letter-spacing:0.35px">800</text><text x="1148.0" y="1087.5" text-anchor="middle" style="font-size:21.5px;letter-spacing:0.35px">1000</text></g>
<text transform="translate(38.5,204.8) rotate(-90)" x="0" y="0" text-anchor="middle" style="font-size:27.3px">Ch. End. Cap. (%)</text>
<text transform="translate(39.3,539.5) rotate(-90)" x="0" y="0" text-anchor="middle" style="font-size:27.3px">Q (%)</text>
<text transform="translate(23.3,881) rotate(-90)" x="0" y="0" text-anchor="middle" style="font-size:27.3px">CE</text>
<text transform="translate(1235.4,204.8) rotate(-90)" x="0" y="0" text-anchor="middle" style="font-size:27.3px">Ch. End. Cap. (%)</text>
<text transform="translate(1243.2,539.5) rotate(-90)" x="0" y="0" text-anchor="middle" style="font-size:27.3px">Q (%)</text>
<text transform="translate(1271,881) rotate(-90)" x="0" y="0" text-anchor="middle" style="font-size:27.3px">CE</text>
<text x="612" y="1124.5" text-anchor="middle" style="font-size:27.3px">Time of C/20 Cycling (h)</text>
<g><rect x="124.5" y="27.5" width="216.5" height="170" fill="#fff" stroke="#ddd" stroke-width="1.2"/><path d="M132.10 50.00H148.30M140.20 41.90V58.10" stroke="#3a3a3a" stroke-width="2.1" fill="none"/><path d="M173.40 50.00H189.60M181.50 41.90V58.10" stroke="#3a3a3a" stroke-width="2.1" fill="none"/><path d="M214.70 50.00H230.90M222.80 41.90V58.10" stroke="#3a3a3a" stroke-width="2.1" fill="none"/><text x="239.5" y="58.5" style="font-size:23.6px">Group 1</text><path d="M140.20 73.54L147.56 80.90L140.20 88.26L132.84 80.90Z" stroke="#3a3a3a" stroke-width="1.8" fill="none"/><path d="M181.50 73.54L188.86 80.90L181.50 88.26L174.14 80.90Z" stroke="#3a3a3a" stroke-width="1.8" fill="none"/><path d="M222.80 73.54L230.16 80.90L222.80 88.26L215.44 80.90Z" stroke="#3a3a3a" stroke-width="1.8" fill="none"/><text x="239.5" y="89.4" style="font-size:23.6px">Group 2</text><rect x="132.75" y="104.55" width="14.90" height="14.90" stroke="#3a3a3a" stroke-width="1.6" fill="none"/><rect x="174.05" y="104.55" width="14.90" height="14.90" stroke="#3a3a3a" stroke-width="1.6" fill="none"/><rect x="215.35" y="104.55" width="14.90" height="14.90" stroke="#3a3a3a" stroke-width="1.6" fill="none"/><text x="239.5" y="120.5" style="font-size:23.6px">Group 3</text><circle cx="140.20" cy="143.50" r="7.54" stroke="#3a3a3a" stroke-width="1.5" fill="none"/><circle cx="181.50" cy="143.50" r="7.54" stroke="#3a3a3a" stroke-width="1.5" fill="none"/><circle cx="222.80" cy="143.50" r="7.54" stroke="#3a3a3a" stroke-width="1.5" fill="none"/><text x="239.5" y="152.0" style="font-size:23.6px">Group 4</text><path d="M140.20 168.93L147.38 181.07L133.02 181.07Z" stroke="#3a3a3a" stroke-width="1.7000000000000002" fill="none" stroke-linejoin="miter"/><path d="M181.50 168.93L188.68 181.07L174.32 181.07Z" stroke="#3a3a3a" stroke-width="1.7000000000000002" fill="none" stroke-linejoin="miter"/><path d="M222.80 168.93L229.98 181.07L215.62 181.07Z" stroke="#3a3a3a" stroke-width="1.7000000000000002" fill="none" stroke-linejoin="miter"/><text x="239.5" y="183.5" style="font-size:23.6px">Group 5</text></g>
</g>
</svg></body></html>
